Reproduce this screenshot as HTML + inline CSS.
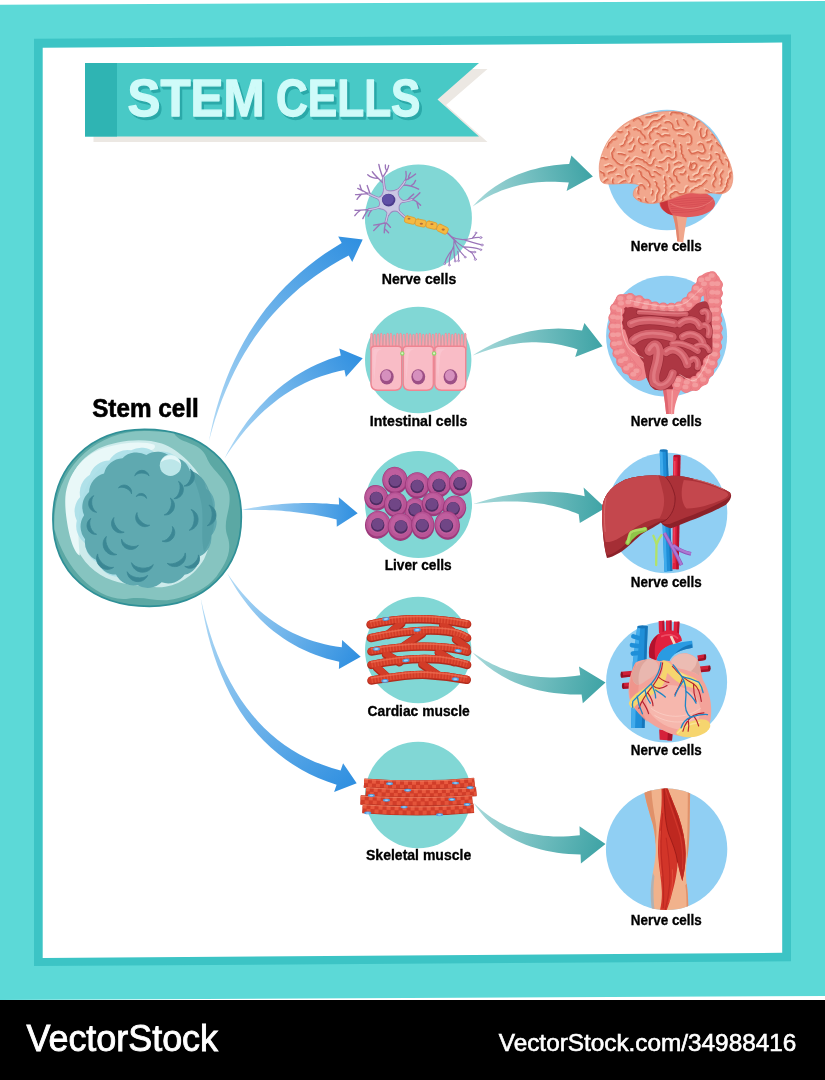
<!DOCTYPE html>
<html><head><meta charset="utf-8"><title>Stem Cells</title>
<style>
html,body{margin:0;padding:0;background:#fff;}
body{width:825px;height:1080px;overflow:hidden;}
svg{display:block;}
text{font-family:"Liberation Sans",sans-serif;}
.lb{font-weight:bold;font-size:15.2px;fill:#000;}
</style></head><body>
<svg width="825" height="1080" viewBox="0 0 825 1080">
<!-- 00_frame.svg -->
<rect x="0" y="0" width="825" height="1080" fill="#ffffff"/>
<polygon points="0,4.8 825,0.9 825,996 0,999.9" fill="#5cd9d7"/>
<polygon points="34,38.8 791,34.5 791,961.3 34,966.1" fill="#3cc4c5"/>
<polygon points="42.7,47.7 782.2,42.6 782.2,952.8 42.7,957.9" fill="#ffffff"/>
<filter id="noop2" x="-0.05" y="-0.1" width="1.1" height="1.2"><feOffset dx="0" dy="0"/></filter>
<rect x="0" y="1000" width="825" height="80" fill="#000000"/>
<g filter="url(#noop2)"><text x="26.5" y="1051.3" font-size="36.8" fill="#ffffff" stroke="#ffffff" stroke-width="0.9" textLength="191.5" lengthAdjust="spacingAndGlyphs">VectorStock</text>
<text x="498.8" y="1051" font-size="23.2" fill="#ffffff" stroke="#ffffff" stroke-width="0.6" textLength="297.5" lengthAdjust="spacingAndGlyphs">VectorStock.com/34988416</text></g>
<!-- 10_banner.svg -->
<g id="banner">
<polygon points="93.5,69 487.5,69 446,105 487.5,142 93.5,142" fill="#ece8e3"/>
<polygon points="85,63 479,63 437.5,99.6 479,136.5 85,136.5" fill="#48c9c6"/>
<rect x="85" y="63" width="32" height="73.5" fill="#2fb4b3"/>
<g font-weight="bold" font-size="52.3" stroke-linejoin="round" filter="url(#noop2)">
<g fill="#2ba9a9" stroke="#2ba9a9" stroke-width="1.3">
<text x="127.5" y="116.3" transform="translate(2.6,2.6)" textLength="137" lengthAdjust="spacingAndGlyphs">STEM</text>
<text x="127.5" y="116.3" transform="translate(1.3,1.3)" textLength="137" lengthAdjust="spacingAndGlyphs">STEM</text>
<text x="276" y="116.3" transform="translate(2.6,2.6)" textLength="144.5" lengthAdjust="spacingAndGlyphs">CELLS</text>
<text x="276" y="116.3" transform="translate(1.3,1.3)" textLength="144.5" lengthAdjust="spacingAndGlyphs">CELLS</text>
</g>
<g fill="#cffbf9" stroke="#cffbf9" stroke-width="1.3">
<text x="127.5" y="116.3" textLength="137" lengthAdjust="spacingAndGlyphs">STEM</text>
<text x="276" y="116.3" textLength="144.5" lengthAdjust="spacingAndGlyphs">CELLS</text>
</g>
</g>
</g>
<!-- 15_circles.svg -->
<g id="circles">
<circle cx="418.4" cy="218" r="53.5" fill="#81d7d5"/>
<circle cx="418.2" cy="360" r="53.2" fill="#81d7d5"/>
<circle cx="418.5" cy="504.5" r="53.5" fill="#81d7d5"/>
<circle cx="418.2" cy="650" r="53.2" fill="#81d7d5"/>
<circle cx="418.2" cy="795" r="53.2" fill="#81d7d5"/>
<circle cx="667" cy="170" r="60.3" fill="#90cff3"/>
<circle cx="666.6" cy="336.2" r="60.5" fill="#90cff3"/>
<circle cx="667" cy="513" r="60.3" fill="#90cff3"/>
<circle cx="666.6" cy="682" r="60.5" fill="#90cff3"/>
<circle cx="666.6" cy="849.3" r="60.7" fill="#90cff3"/>
</g>
<!-- 20_arrows.svg -->
<defs><linearGradient id="gb0" gradientUnits="userSpaceOnUse" x1="208.8" y1="441.5" x2="362.7" y2="239.6"><stop offset="0" stop-color="#b5dcf6"/><stop offset="1" stop-color="#2f8fe0"/></linearGradient>
<linearGradient id="gb1" gradientUnits="userSpaceOnUse" x1="224.5" y1="458.4" x2="362.7" y2="358.2"><stop offset="0" stop-color="#b5dcf6"/><stop offset="1" stop-color="#2f8fe0"/></linearGradient>
<linearGradient id="gb2" gradientUnits="userSpaceOnUse" x1="241.7" y1="510.0" x2="357.7" y2="513.3"><stop offset="0" stop-color="#b5dcf6"/><stop offset="1" stop-color="#2f8fe0"/></linearGradient>
<linearGradient id="gb3" gradientUnits="userSpaceOnUse" x1="227.3" y1="573.3" x2="360.7" y2="656.7"><stop offset="0" stop-color="#b5dcf6"/><stop offset="1" stop-color="#2f8fe0"/></linearGradient>
<linearGradient id="gb4" gradientUnits="userSpaceOnUse" x1="200.7" y1="598.3" x2="356.7" y2="783.3"><stop offset="0" stop-color="#b5dcf6"/><stop offset="1" stop-color="#2f8fe0"/></linearGradient>
<linearGradient id="gt0" gradientUnits="userSpaceOnUse" x1="472.6" y1="206.6" x2="592.9" y2="176.5"><stop offset="0" stop-color="#a9dadb"/><stop offset="1" stop-color="#3ea3a5"/></linearGradient>
<linearGradient id="gt1" gradientUnits="userSpaceOnUse" x1="472.6" y1="355.6" x2="602.6" y2="346.2"><stop offset="0" stop-color="#a9dadb"/><stop offset="1" stop-color="#3ea3a5"/></linearGradient>
<linearGradient id="gt2" gradientUnits="userSpaceOnUse" x1="473.2" y1="504.0" x2="605.5" y2="507.9"><stop offset="0" stop-color="#a9dadb"/><stop offset="1" stop-color="#3ea3a5"/></linearGradient>
<linearGradient id="gt3" gradientUnits="userSpaceOnUse" x1="472.6" y1="652.4" x2="605.5" y2="682.4"><stop offset="0" stop-color="#a9dadb"/><stop offset="1" stop-color="#3ea3a5"/></linearGradient>
<linearGradient id="gt4" gradientUnits="userSpaceOnUse" x1="473.6" y1="802.7" x2="605.5" y2="844.0"><stop offset="0" stop-color="#a9dadb"/><stop offset="1" stop-color="#3ea3a5"/></linearGradient></defs>
<g id="arrows">
<path d="M208.8 441.5 L211.8 430.6 L214.9 420.1 L218.4 409.7 L222.0 399.7 L226.0 389.9 L230.2 380.4 L234.6 371.2 L239.3 362.2 L244.3 353.6 L249.5 345.2 L254.9 337.0 L260.6 329.2 L266.6 321.6 L272.8 314.3 L279.3 307.2 L286.0 300.4 L292.9 293.9 L300.1 287.6 L307.6 281.7 L315.3 275.9 L323.3 270.4 L331.5 265.2 L339.9 260.3 L348.7 255.6 L352.2 262.0 L362.7 239.6 L338.2 236.6 L341.7 243.0 L332.9 248.5 L324.3 254.1 L316.0 260.1 L308.0 266.2 L300.2 272.7 L292.8 279.4 L285.7 286.3 L278.8 293.5 L272.3 301.0 L266.0 308.6 L260.1 316.6 L254.4 324.7 L249.0 333.1 L243.9 341.8 L239.1 350.7 L234.6 359.8 L230.3 369.2 L226.4 378.8 L222.7 388.7 L219.4 398.7 L216.3 409.1 L213.5 419.6 L211.0 430.4 L208.8 441.5Z" fill="url(#gb0)"/>
<path d="M224.5 458.4 L228.6 452.2 L232.8 446.3 L237.1 440.5 L241.4 435.0 L245.8 429.6 L250.3 424.5 L254.9 419.7 L259.6 415.0 L264.3 410.6 L269.1 406.4 L274.0 402.4 L279.0 398.6 L284.0 395.1 L289.1 391.7 L294.3 388.6 L299.6 385.7 L304.9 383.0 L310.3 380.6 L315.8 378.3 L321.3 376.2 L327.0 374.4 L332.7 372.8 L338.5 371.3 L344.4 370.1 L345.9 377.1 L362.7 358.2 L339.3 348.5 L340.8 355.5 L334.6 357.4 L328.5 359.5 L322.5 361.9 L316.6 364.4 L310.8 367.2 L305.2 370.2 L299.6 373.4 L294.2 376.8 L289.0 380.4 L283.8 384.2 L278.8 388.2 L273.9 392.4 L269.1 396.8 L264.5 401.4 L259.9 406.2 L255.5 411.2 L251.2 416.4 L247.0 421.8 L243.0 427.4 L239.0 433.2 L235.2 439.2 L231.5 445.4 L227.9 451.8 L224.5 458.4Z" fill="url(#gb1)"/>
<path d="M241.7 510.0 L245.8 510.0 L249.8 509.9 L253.9 509.9 L257.9 509.9 L261.9 509.9 L265.9 510.0 L269.9 510.2 L273.9 510.3 L277.9 510.6 L281.9 510.8 L285.8 511.2 L289.8 511.5 L293.7 511.9 L297.7 512.4 L301.6 512.9 L305.5 513.4 L309.4 514.0 L313.3 514.6 L317.2 515.3 L321.1 516.0 L325.0 516.8 L328.8 517.6 L332.7 518.5 L336.6 519.4 L336.8 526.8 L357.7 513.3 L338.8 497.2 L339.0 504.6 L334.9 504.2 L330.8 503.9 L326.7 503.6 L322.6 503.4 L318.5 503.2 L314.4 503.1 L310.3 503.0 L306.2 503.0 L302.2 503.1 L298.1 503.2 L294.0 503.3 L290.0 503.5 L285.9 503.7 L281.9 504.0 L277.8 504.4 L273.8 504.8 L269.7 505.2 L265.7 505.7 L261.7 506.3 L257.7 506.9 L253.7 507.6 L249.7 508.3 L245.7 509.1 L241.7 510.0Z" fill="url(#gb2)"/>
<path d="M227.3 573.3 L230.4 579.2 L233.6 584.8 L237.0 590.3 L240.6 595.5 L244.3 600.6 L248.1 605.6 L252.0 610.3 L256.0 614.8 L260.2 619.2 L264.6 623.4 L269.0 627.4 L273.6 631.2 L278.4 634.8 L283.2 638.2 L288.2 641.5 L293.4 644.5 L298.7 647.4 L304.1 650.0 L309.6 652.5 L315.3 654.7 L321.1 656.8 L327.0 658.7 L333.1 660.3 L339.2 661.8 L338.9 669.1 L360.7 656.7 L342.1 639.9 L341.8 647.2 L336.0 646.4 L330.3 645.4 L324.7 644.2 L319.2 642.8 L313.7 641.2 L308.4 639.5 L303.2 637.5 L298.0 635.3 L292.9 633.0 L288.0 630.4 L283.1 627.7 L278.3 624.7 L273.5 621.6 L268.9 618.2 L264.4 614.7 L259.9 610.9 L255.5 606.9 L251.2 602.7 L247.0 598.3 L242.9 593.7 L238.9 588.9 L235.0 583.9 L231.1 578.7 L227.3 573.3Z" fill="url(#gb3)"/>
<path d="M200.7 598.3 L202.7 610.5 L205.1 622.3 L207.7 633.7 L210.7 644.8 L214.0 655.4 L217.6 665.7 L221.5 675.6 L225.7 685.1 L230.2 694.3 L235.0 703.0 L240.2 711.4 L245.7 719.4 L251.5 727.0 L257.6 734.3 L264.0 741.1 L270.8 747.6 L277.9 753.6 L285.3 759.3 L293.0 764.6 L301.1 769.4 L309.5 773.9 L318.2 777.9 L327.2 781.6 L336.6 784.8 L334.1 792.0 L356.7 783.3 L343.1 763.2 L340.6 770.4 L331.8 768.0 L323.3 765.1 L315.0 761.9 L307.0 758.2 L299.2 754.2 L291.7 749.8 L284.5 744.9 L277.5 739.7 L270.7 734.0 L264.2 728.0 L258.0 721.5 L252.0 714.5 L246.3 707.2 L240.8 699.4 L235.6 691.2 L230.6 682.6 L225.9 673.6 L221.5 664.1 L217.4 654.2 L213.5 643.9 L209.9 633.1 L206.6 621.9 L203.5 610.3 L200.7 598.3Z" fill="url(#gb4)"/>
<path d="M472.6 206.6 L476.1 204.2 L479.6 201.9 L483.1 199.7 L486.7 197.6 L490.4 195.6 L494.0 193.8 L497.7 192.2 L501.5 190.6 L505.3 189.2 L509.2 187.9 L513.1 186.7 L517.0 185.7 L521.0 184.8 L525.1 184.0 L529.2 183.3 L533.4 182.7 L537.6 182.3 L541.9 182.0 L546.2 181.8 L550.6 181.7 L555.1 181.8 L559.6 181.9 L564.2 182.2 L568.8 182.6 L566.6 191.1 L592.9 176.5 L571.4 155.5 L569.2 164.0 L564.1 164.3 L559.1 164.7 L554.1 165.3 L549.3 166.0 L544.5 166.8 L539.8 167.8 L535.3 168.9 L530.8 170.1 L526.4 171.4 L522.1 172.9 L517.9 174.5 L513.8 176.3 L509.8 178.1 L505.9 180.1 L502.1 182.2 L498.4 184.4 L494.8 186.8 L491.3 189.3 L487.9 191.8 L484.6 194.5 L481.4 197.4 L478.4 200.3 L475.4 203.4 L472.6 206.6Z" fill="url(#gt0)"/>
<path d="M472.6 355.6 L477.4 353.8 L482.1 352.1 L486.8 350.5 L491.4 349.0 L496.0 347.7 L500.6 346.5 L505.1 345.5 L509.6 344.6 L514.1 343.9 L518.6 343.3 L523.0 342.8 L527.3 342.5 L531.7 342.3 L536.0 342.3 L540.3 342.4 L544.5 342.7 L548.7 343.0 L552.9 343.5 L557.1 344.2 L561.2 345.0 L565.3 345.9 L569.4 346.9 L573.5 348.1 L577.5 349.4 L575.2 356.9 L602.6 346.2 L584.4 323.1 L582.1 330.6 L577.3 329.9 L572.6 329.3 L567.8 328.9 L563.1 328.7 L558.4 328.6 L553.7 328.7 L549.0 328.9 L544.3 329.3 L539.7 329.8 L535.0 330.5 L530.4 331.3 L525.9 332.3 L521.3 333.4 L516.8 334.7 L512.2 336.1 L507.7 337.7 L503.3 339.4 L498.8 341.3 L494.4 343.3 L490.0 345.4 L485.6 347.7 L481.2 350.2 L476.9 352.8 L472.6 355.6Z" fill="url(#gt1)"/>
<path d="M473.2 504.0 L478.4 503.4 L483.6 502.9 L488.7 502.4 L493.7 502.0 L498.6 501.7 L503.5 501.5 L508.3 501.4 L513.0 501.4 L517.6 501.5 L522.2 501.7 L526.7 502.0 L531.2 502.4 L535.5 502.9 L539.8 503.5 L544.0 504.1 L548.2 504.9 L552.3 505.8 L556.3 506.7 L560.2 507.8 L564.0 508.9 L567.8 510.1 L571.5 511.4 L575.2 512.8 L578.7 514.3 L579.8 523.1 L605.5 507.9 L583.6 487.5 L584.7 496.3 L580.4 495.3 L576.1 494.5 L571.8 493.7 L567.4 493.1 L563.0 492.6 L558.6 492.2 L554.1 492.0 L549.6 491.8 L545.1 491.7 L540.5 491.8 L535.9 492.0 L531.3 492.2 L526.6 492.6 L521.9 493.1 L517.2 493.7 L512.5 494.4 L507.7 495.2 L502.8 496.1 L498.0 497.1 L493.1 498.3 L488.2 499.5 L483.2 500.9 L478.2 502.4 L473.2 504.0Z" fill="url(#gt2)"/>
<path d="M472.6 652.4 L475.8 655.9 L479.2 659.2 L482.7 662.3 L486.3 665.4 L490.1 668.2 L493.9 671.0 L497.9 673.5 L502.0 676.0 L506.2 678.3 L510.5 680.4 L514.9 682.4 L519.4 684.3 L524.0 686.0 L528.8 687.5 L533.6 688.9 L538.5 690.2 L543.6 691.3 L548.7 692.2 L554.0 693.0 L559.3 693.6 L564.8 694.1 L570.3 694.4 L575.9 694.5 L581.6 694.5 L582.8 703.2 L605.5 682.4 L579.0 666.6 L580.2 675.3 L575.0 676.0 L569.9 676.5 L564.8 677.0 L559.9 677.2 L554.9 677.4 L550.1 677.4 L545.3 677.2 L540.6 676.9 L536.0 676.5 L531.4 675.9 L526.8 675.2 L522.4 674.4 L517.9 673.4 L513.6 672.2 L509.3 670.9 L505.0 669.5 L500.8 667.9 L496.6 666.1 L492.5 664.2 L488.4 662.1 L484.4 659.9 L480.5 657.6 L476.5 655.0 L472.6 652.4Z" fill="url(#gt3)"/>
<path d="M473.6 802.7 L476.3 806.8 L479.2 810.6 L482.2 814.3 L485.4 817.9 L488.8 821.3 L492.3 824.5 L495.9 827.6 L499.8 830.6 L503.7 833.3 L507.9 836.0 L512.1 838.4 L516.6 840.7 L521.1 842.8 L525.8 844.7 L530.7 846.5 L535.7 848.1 L540.9 849.5 L546.1 850.8 L551.6 851.8 L557.1 852.7 L562.8 853.4 L568.6 854.0 L574.6 854.3 L580.6 854.5 L580.9 863.6 L605.5 844.0 L579.5 826.2 L579.8 835.3 L574.3 835.8 L568.9 836.2 L563.6 836.4 L558.4 836.5 L553.3 836.4 L548.3 836.1 L543.4 835.7 L538.6 835.1 L533.9 834.3 L529.3 833.4 L524.8 832.4 L520.3 831.1 L516.0 829.7 L511.7 828.1 L507.6 826.4 L503.5 824.5 L499.5 822.4 L495.6 820.1 L491.7 817.7 L487.9 815.0 L484.3 812.2 L480.6 809.2 L477.1 806.0 L473.6 802.7Z" fill="url(#gt4)"/>
</g>
<!-- 30_stemcell.svg -->
<g id="stemcell" transform="translate(45 420) scale(0.24848)">
<path d="M32 400 C32 185 185 38 400 38 C625 38 790 170 790 390 C790 600 645 750 420 750 C190 750 32 615 32 400Z" fill="#5ba8a4" stroke="#2f9097" stroke-width="7"/>
<path d="M38 440 C25 210 190 44 400 44 C450 44 490 48 520 55 C550 100 625 85 650 150 C670 205 735 235 742 300 C750 365 712 405 735 470 C758 540 715 590 690 630 C650 680 590 705 530 718 C460 738 410 708 340 718 C270 730 200 690 150 640 C100 590 60 520 38 440Z" fill="#86c4c0"/>
<path d="M88 330 C85 240 130 160 215 115 C290 80 400 70 470 95 C540 120 610 190 650 270 C690 360 680 480 640 560 C600 630 520 680 440 672 C380 668 330 665 270 645 C200 620 150 570 120 500 C100 450 90 390 88 330Z" fill="#cdebeb"/>
<path d="M82 310 C90 220 150 140 240 112 C320 88 400 85 440 100 C450 115 430 125 390 128 C310 135 230 170 185 235 C140 300 125 400 140 545 C120 540 100 480 90 420 C84 380 80 350 82 310Z" fill="#e9f8f8"/>
<path d="M653.7 409.2 A85.0 85.0 0 0 1 632.0 504.3 A85.0 85.0 0 0 1 565.4 575.0 A85.0 85.0 0 0 1 486.8 630.8 A85.0 85.0 0 0 1 391.1 639.0 A85.0 85.0 0 0 1 294.7 631.2 A85.0 85.0 0 0 1 215.0 575.3 A85.0 85.0 0 0 1 162.1 495.8 A85.0 85.0 0 0 1 128.0 405.5 A85.0 85.0 0 0 1 141.6 309.4 A85.0 85.0 0 0 1 180.4 219.9 A85.0 85.0 0 0 1 258.9 162.6 A85.0 85.0 0 0 1 346.3 122.1 A85.0 85.0 0 0 1 442.0 131.7 A85.0 85.0 0 0 1 535.3 157.1 A85.0 85.0 0 0 1 603.3 226.7 A85.0 85.0 0 0 1 640.7 314.5 A85.0 85.0 0 0 1 653.7 409.2Z" fill="#a6dde6" opacity="0.85"/>
<path d="M668.9 464.8 A80.0 80.0 0 0 1 623.4 548.7 A80.0 80.0 0 0 1 561.7 623.1 A80.0 80.0 0 0 1 469.5 653.2 A80.0 80.0 0 0 1 372.9 664.7 A80.0 80.0 0 0 1 285.7 622.1 A80.0 80.0 0 0 1 208.7 564.8 A80.0 80.0 0 0 1 161.2 479.7 A80.0 80.0 0 0 1 157.5 383.2 A80.0 80.0 0 0 1 177.4 289.6 A80.0 80.0 0 0 1 237.5 215.6 A80.0 80.0 0 0 1 311.8 153.7 A80.0 80.0 0 0 1 408.0 141.1 A80.0 80.0 0 0 1 505.0 147.6 A80.0 80.0 0 0 1 582.9 205.4 A80.0 80.0 0 0 1 648.0 275.9 A80.0 80.0 0 0 1 679.1 368.3 A80.0 80.0 0 0 1 668.9 464.8Z" fill="#5fa9b0"/>
<path d="M585 205 C640 215 670 290 678 350 C690 420 670 490 640 530 C625 470 640 400 630 340 C620 280 600 240 585 205Z" fill="#529ea5" opacity="0.8"/>
<g fill="#3b8794" stroke="#3b8794" stroke-width="3" stroke-linejoin="round">
<path transform="translate(390 225) rotate(180)" d="M-29 0 C-21 30 21 30 29 0 C17 15 -17 15 -29 0Z"/>
<path transform="translate(322 285) rotate(205)" d="M-29 0 C-21 30 21 30 29 0 C17 15 -17 15 -29 0Z"/>
<path transform="translate(388 312) rotate(190)" d="M-21 0 C-16 22 16 22 21 0 C12 11 -12 11 -21 0Z"/>
<path transform="translate(528 282) rotate(-75)" d="M-36 0 C-27 38 27 38 36 0 C22 19 -22 19 -36 0Z"/>
<path transform="translate(572 232) rotate(-70)" d="M-36 0 C-27 38 27 38 36 0 C22 19 -22 19 -36 0Z"/>
<path transform="translate(492 348) rotate(-70)" d="M-36 0 C-27 38 27 38 36 0 C22 19 -22 19 -36 0Z"/>
<path transform="translate(202 338) rotate(80)" d="M-34 0 C-25 35 25 35 34 0 C20 18 -20 18 -34 0Z"/>
<path transform="translate(196 428) rotate(70)" d="M-34 0 C-25 35 25 35 34 0 C20 18 -20 18 -34 0Z"/>
<path transform="translate(298 422) rotate(55)" d="M-36 0 C-27 38 27 38 36 0 C22 19 -22 19 -36 0Z"/>
<path transform="translate(396 398) rotate(45)" d="M-36 0 C-27 38 27 38 36 0 C22 19 -22 19 -36 0Z"/>
<path transform="translate(584 402) rotate(-85)" d="M-42 0 C-31 43 31 43 42 0 C25 22 -25 22 -42 0Z"/>
<path transform="translate(656 384) rotate(-85)" d="M-42 0 C-31 43 31 43 42 0 C25 22 -25 22 -42 0Z"/>
<path transform="translate(492 458) rotate(-55)" d="M-36 0 C-27 38 27 38 36 0 C22 19 -22 19 -36 0Z"/>
<path transform="translate(268 505) rotate(60)" d="M-42 0 C-31 43 31 43 42 0 C25 22 -25 22 -42 0Z"/>
<path transform="translate(342 492) rotate(20)" d="M-36 0 C-27 38 27 38 36 0 C22 19 -22 19 -36 0Z"/>
<path transform="translate(244 566) rotate(40)" d="M-42 0 C-31 43 31 43 42 0 C25 22 -25 22 -42 0Z"/>
<path transform="translate(392 578) rotate(5)" d="M-44 0 C-33 46 33 46 44 0 C27 24 -27 24 -44 0Z"/>
<path transform="translate(372 618) rotate(10)" d="M-42 0 C-31 43 31 43 42 0 C25 22 -25 22 -42 0Z"/>
<path transform="translate(528 556) rotate(-30)" d="M-42 0 C-31 43 31 43 42 0 C25 22 -25 22 -42 0Z"/>
<path transform="translate(590 566) rotate(-40)" d="M-36 0 C-27 38 27 38 36 0 C22 19 -22 19 -36 0Z"/>
</g>
<circle cx="505" cy="182" r="43" fill="#c4ebee" opacity="0.92"/>
<path d="M465 170 A43 43 0 0 1 548 180 A60 60 0 0 0 465 170Z" fill="#e4f7f8"/>
</g>
<!-- 41_neuron.svg -->
<g id="neuron" transform="translate(345 155) scale(0.18182)" fill="none" stroke-linecap="round" stroke-linejoin="round">
<!-- dendrites -->
<g stroke="#9a74b8" stroke-width="7.5">
<path d="M222 200 C212 170 212 140 210 118 M210 130 C200 100 190 80 186 52 M210 118 C225 95 238 80 240 58 M205 150 C185 130 165 115 150 92 M180 128 C160 128 140 122 125 108 M230 90 C222 78 220 66 222 55"/>
<path d="M285 200 C305 180 320 165 332 140 M332 140 C338 120 338 105 335 90 M332 140 C352 128 372 120 388 105 M318 165 C345 165 375 172 405 188 M350 132 C348 118 352 108 360 98 M365 168 C378 160 385 150 388 140"/>
<path d="M305 258 C330 255 350 250 372 244 M372 244 C388 232 400 222 412 208 M372 244 C390 252 404 262 416 276 M340 252 C350 238 365 225 378 215 M395 258 C398 270 402 282 404 292"/>
<path d="M190 240 C165 232 145 222 125 212 M125 212 C105 200 88 192 70 184 M125 212 C100 215 80 218 58 218 M140 218 C132 200 128 185 122 168 M95 198 C88 186 84 176 82 164 M90 216 C80 226 72 234 66 244"/>
<path d="M195 285 C170 295 150 298 128 300 M128 300 C102 302 80 306 55 304 M128 300 C115 318 105 332 98 350 M150 298 C140 310 132 322 128 336 M85 304 C72 312 62 322 54 334"/>
<path d="M238 315 C232 340 228 355 224 372 M224 372 C200 380 180 384 158 386 M224 372 C218 392 215 408 216 428 M224 372 C236 380 244 388 250 398 M190 383 C178 394 168 404 158 416 M218 405 C228 414 234 420 240 428"/>
</g>
<!-- axon -->
<path d="M285 300 C305 320 320 335 340 350 L560 425 C580 445 595 460 610 475" stroke="#9a74b8" stroke-width="9"/>
<!-- terminals -->
<g stroke="#9a74b8" stroke-width="6.5">
<path d="M585 450 C620 470 660 468 700 458 C715 454 730 452 745 454 M660 468 C690 478 720 486 752 494 M700 458 C710 448 716 440 720 430 M610 475 C640 500 670 520 700 540 C706 550 712 560 716 572 M650 505 C690 505 720 510 745 520 M600 465 C610 500 630 530 660 560 M600 470 C596 510 600 550 606 582 M598 500 C580 540 570 570 574 604 M590 520 C570 545 555 570 548 596 M620 530 C625 550 626 566 624 580 M680 528 C690 532 700 534 712 534"/>
</g>
<g fill="#d9d2ee" stroke="#9a74b8" stroke-width="3.5">
<circle cx="747" cy="454" r="6"/><circle cx="754" cy="495" r="6"/><circle cx="720" cy="428" r="5"/><circle cx="717" cy="574" r="6"/><circle cx="747" cy="521" r="5"/><circle cx="661" cy="562" r="5"/><circle cx="606" cy="584" r="5"/><circle cx="574" cy="606" r="5"/><circle cx="548" cy="598" r="5"/><circle cx="624" cy="582" r="5"/><circle cx="714" cy="534" r="5"/>
</g>
<!-- soma -->
<path d="M222 200 C212 170 212 140 210 122 M285 200 C305 180 320 165 330 144 M305 258 C330 255 350 250 368 245 M190 240 C165 232 145 222 129 214 M195 285 C170 295 150 298 132 300 M238 315 C232 340 228 355 225 368 M285 300 C305 320 320 335 338 348" stroke="#9a74b8" stroke-width="14"/>
<path d="M214 180 C225 205 262 205 292 190 C285 215 295 240 320 254 C295 265 290 285 298 312 C275 300 250 305 240 330 C232 305 210 292 184 292 C196 275 196 255 180 238 C205 232 216 210 214 180Z" fill="#9a74b8" stroke="#9a74b8" stroke-width="9"/>
<path d="M222 200 C212 170 212 140 210 122 M285 200 C305 180 320 165 330 144 M305 258 C330 255 350 250 368 245 M190 240 C165 232 145 222 129 214 M195 285 C170 295 150 298 132 300 M238 315 C232 340 228 355 225 368 M285 300 C305 320 320 335 338 348" stroke="#cac7e3" stroke-width="7"/>
<path d="M214 180 C225 205 262 205 292 190 C285 215 295 240 320 254 C295 265 290 285 298 312 C275 300 250 305 240 330 C232 305 210 292 184 292 C196 275 196 255 180 238 C205 232 216 210 214 180Z" fill="#cac7e3" stroke="#cac7e3" stroke-width="2"/>
<ellipse cx="240" cy="248" rx="37" ry="35" fill="#4b3c8c"/>
<ellipse cx="236" cy="243" rx="32" ry="29" fill="#5f4fa6"/>
<!-- myelin -->
<g fill="#f5b941" stroke="#dd9a2c" stroke-width="4">
<rect x="-30" y="-19" width="60" height="38" rx="12" transform="translate(358 358) rotate(14)"/>
<rect x="-30" y="-19" width="60" height="38" rx="12" transform="translate(416 374) rotate(12)"/>
<rect x="-30" y="-19" width="60" height="38" rx="12" transform="translate(476 386) rotate(14)"/>
<rect x="-31" y="-20" width="62" height="40" rx="12" transform="translate(536 408) rotate(26)"/>
</g>
<g fill="#b26d3c" stroke="none">
<ellipse cx="352" cy="350" rx="8" ry="5"/><ellipse cx="420" cy="378" rx="9" ry="5"/><ellipse cx="478" cy="380" rx="9" ry="5"/><ellipse cx="540" cy="410" rx="9" ry="6"/>
</g>
</g>
<!-- 42_intestcells.svg -->
<g id="intestcells" transform="translate(345 295) scale(0.18182)">
<g fill="#f7a7b0" stroke="#ee7f8c" stroke-width="3"><path d="M138.0 300 L141.5 216 Q146.0 201 150.5 216 L154.0 300Z"/><path d="M155.8 300 L159.3 222 Q163.8 207 168.3 222 L171.8 300Z"/><path d="M173.5 300 L177.0 220 Q181.5 205 186.0 220 L189.5 300Z"/><path d="M191.3 300 L194.8 216 Q199.3 201 203.8 216 L207.3 300Z"/><path d="M209.0 300 L212.5 222 Q217.0 207 221.5 222 L225.0 300Z"/><path d="M226.8 300 L230.3 216 Q234.8 201 239.3 216 L242.8 300Z"/><path d="M244.6 300 L248.1 216 Q252.6 201 257.1 216 L260.6 300Z"/><path d="M262.3 300 L265.8 226 Q270.3 211 274.8 226 L278.3 300Z"/><path d="M280.1 300 L283.6 216 Q288.1 201 292.6 216 L296.1 300Z"/><path d="M297.8 300 L301.3 216 Q305.8 201 310.3 216 L313.8 300Z"/><path d="M315.6 300 L319.1 222 Q323.6 207 328.1 222 L331.6 300Z"/><path d="M333.3 300 L336.8 216 Q341.3 201 345.8 216 L349.3 300Z"/><path d="M351.1 300 L354.6 220 Q359.1 205 363.6 220 L367.1 300Z"/><path d="M368.9 300 L372.4 222 Q376.9 207 381.4 222 L384.9 300Z"/><path d="M386.6 300 L390.1 216 Q394.6 201 399.1 216 L402.6 300Z"/><path d="M404.4 300 L407.9 216 Q412.4 201 416.9 216 L420.4 300Z"/><path d="M422.1 300 L425.6 222 Q430.1 207 434.6 222 L438.1 300Z"/><path d="M439.9 300 L443.4 220 Q447.9 205 452.4 220 L455.9 300Z"/><path d="M457.7 300 L461.2 216 Q465.7 201 470.2 216 L473.7 300Z"/><path d="M475.4 300 L478.9 222 Q483.4 207 487.9 222 L491.4 300Z"/><path d="M493.2 300 L496.7 216 Q501.2 201 505.7 216 L509.2 300Z"/><path d="M510.9 300 L514.4 216 Q518.9 201 523.4 216 L526.9 300Z"/><path d="M528.7 300 L532.2 226 Q536.7 211 541.2 226 L544.7 300Z"/><path d="M546.4 300 L549.9 216 Q554.4 201 558.9 216 L562.4 300Z"/><path d="M564.2 300 L567.7 216 Q572.2 201 576.7 216 L580.2 300Z"/><path d="M582.0 300 L585.5 222 Q590.0 207 594.5 222 L598.0 300Z"/><path d="M599.7 300 L603.2 216 Q607.7 201 612.2 216 L615.7 300Z"/><path d="M617.5 300 L621.0 220 Q625.5 205 630.0 220 L633.5 300Z"/><path d="M635.2 300 L638.7 222 Q643.2 207 647.7 222 L651.2 300Z"/><path d="M653.0 300 L656.5 216 Q661.0 201 665.5 216 L669.0 300Z"/></g>
<path d="M143 300 Q143 282 163 282 L292 282 Q312 282 312 300 L312 490 Q310 522 276 524 L179 524 Q145 522 143 490Z" fill="#f9bcc6" stroke="#ee8592" stroke-width="8" stroke-linejoin="round"/>
<path d="M155 310 Q155 296 173 296 L209 296 Q179 300 173 330 L161 470 Q153 400 155 310Z" fill="#fcd5dc" opacity="0.35"/>
<path d="M320 300 Q320 282 340 282 L466 282 Q486 282 486 300 L486 490 Q484 522 450 524 L356 524 Q322 522 320 490Z" fill="#f9bcc6" stroke="#ee8592" stroke-width="8" stroke-linejoin="round"/>
<path d="M332 310 Q332 296 350 296 L386 296 Q356 300 350 330 L338 470 Q330 400 332 310Z" fill="#fcd5dc" opacity="0.35"/>
<path d="M494 300 Q494 282 514 282 L644 282 Q664 282 664 300 L664 490 Q662 522 628 524 L530 524 Q496 522 494 490Z" fill="#f9bcc6" stroke="#ee8592" stroke-width="8" stroke-linejoin="round"/>
<path d="M506 310 Q506 296 524 296 L560 296 Q530 300 524 330 L512 470 Q504 400 506 310Z" fill="#fcd5dc" opacity="0.35"/>
<ellipse cx="230" cy="450" rx="38" ry="42" fill="#9c4f85"/>
<ellipse cx="227" cy="443" rx="27" ry="30" fill="#d690be"/>
<ellipse cx="403" cy="450" rx="38" ry="42" fill="#9c4f85"/>
<ellipse cx="400" cy="443" rx="27" ry="30" fill="#d690be"/>
<ellipse cx="580" cy="450" rx="38" ry="42" fill="#9c4f85"/>
<ellipse cx="577" cy="443" rx="27" ry="30" fill="#d690be"/>
<circle cx="315" cy="322" r="12" fill="#8fd66a"/><circle cx="315" cy="321" r="6" fill="#dcf7c6"/>
<circle cx="490" cy="322" r="12" fill="#8fd66a"/><circle cx="490" cy="321" r="6" fill="#dcf7c6"/>
</g>
<!-- 43_livercells.svg -->
<g id="livercells" transform="translate(345 440) scale(0.18182)">
<g transform="translate(385 388) rotate(0)"><ellipse rx="60" ry="71" fill="#9c3a7c"/><ellipse cy="-5" rx="55" ry="63" fill="#b85496"/><ellipse cx="-3" cy="-10" rx="42" ry="50" fill="#bf5e9e"/></g>
<circle cx="385" cy="385" r="37" fill="#4d2c62"/><circle cx="385" cy="380" r="32" fill="#704686"/>
<g transform="translate(275 222) rotate(-10)"><ellipse rx="70" ry="75" fill="#9c3a7c"/><ellipse cy="-5" rx="65" ry="67" fill="#b85496"/><ellipse cx="-3" cy="-10" rx="52" ry="54" fill="#bf5e9e"/></g>
<circle cx="276" cy="228" r="37" fill="#4d2c62"/><circle cx="276" cy="223" r="32" fill="#704686"/>
<g transform="translate(397 250) rotate(0)"><ellipse rx="68" ry="73" fill="#9c3a7c"/><ellipse cy="-5" rx="63" ry="65" fill="#b85496"/><ellipse cx="-3" cy="-10" rx="50" ry="52" fill="#bf5e9e"/></g>
<circle cx="397" cy="256" r="37" fill="#4d2c62"/><circle cx="397" cy="251" r="32" fill="#704686"/>
<g transform="translate(517 243) rotate(5)"><ellipse rx="66" ry="73" fill="#9c3a7c"/><ellipse cy="-5" rx="61" ry="65" fill="#b85496"/><ellipse cx="-3" cy="-10" rx="48" ry="52" fill="#bf5e9e"/></g>
<circle cx="517" cy="250" r="37" fill="#4d2c62"/><circle cx="517" cy="245" r="32" fill="#704686"/>
<g transform="translate(636 235) rotate(10)"><ellipse rx="64" ry="73" fill="#9c3a7c"/><ellipse cy="-5" rx="59" ry="65" fill="#b85496"/><ellipse cx="-3" cy="-10" rx="46" ry="52" fill="#bf5e9e"/></g>
<circle cx="632" cy="240" r="37" fill="#4d2c62"/><circle cx="632" cy="235" r="32" fill="#704686"/>
<g transform="translate(172 318) rotate(-15)"><ellipse rx="66" ry="71" fill="#9c3a7c"/><ellipse cy="-5" rx="61" ry="63" fill="#b85496"/><ellipse cx="-3" cy="-10" rx="48" ry="50" fill="#bf5e9e"/></g>
<circle cx="172" cy="322" r="37" fill="#4d2c62"/><circle cx="172" cy="317" r="32" fill="#704686"/>
<g transform="translate(278 356) rotate(0)"><ellipse rx="64" ry="71" fill="#9c3a7c"/><ellipse cy="-5" rx="59" ry="63" fill="#b85496"/><ellipse cx="-3" cy="-10" rx="46" ry="50" fill="#bf5e9e"/></g>
<circle cx="275" cy="358" r="37" fill="#4d2c62"/><circle cx="275" cy="353" r="32" fill="#704686"/>
<g transform="translate(486 352) rotate(10)"><ellipse rx="64" ry="67" fill="#9c3a7c"/><ellipse cy="-5" rx="59" ry="59" fill="#b85496"/><ellipse cx="-3" cy="-10" rx="46" ry="46" fill="#bf5e9e"/></g>
<circle cx="478" cy="358" r="37" fill="#4d2c62"/><circle cx="478" cy="353" r="32" fill="#704686"/>
<g transform="translate(602 374) rotate(15)"><ellipse rx="64" ry="69" fill="#9c3a7c"/><ellipse cy="-5" rx="59" ry="61" fill="#b85496"/><ellipse cx="-3" cy="-10" rx="46" ry="48" fill="#bf5e9e"/></g>
<circle cx="595" cy="378" r="37" fill="#4d2c62"/><circle cx="595" cy="373" r="32" fill="#704686"/>
<g transform="translate(180 466) rotate(10)"><ellipse rx="70" ry="77" fill="#9c3a7c"/><ellipse cy="-5" rx="65" ry="69" fill="#b85496"/><ellipse cx="-3" cy="-10" rx="52" ry="56" fill="#bf5e9e"/></g>
<circle cx="180" cy="468" r="37" fill="#4d2c62"/><circle cx="180" cy="463" r="32" fill="#704686"/>
<g transform="translate(305 478) rotate(0)"><ellipse rx="70" ry="77" fill="#9c3a7c"/><ellipse cy="-5" rx="65" ry="69" fill="#b85496"/><ellipse cx="-3" cy="-10" rx="52" ry="56" fill="#bf5e9e"/></g>
<circle cx="308" cy="478" r="37" fill="#4d2c62"/><circle cx="308" cy="473" r="32" fill="#704686"/>
<g transform="translate(428 470) rotate(0)"><ellipse rx="64" ry="77" fill="#9c3a7c"/><ellipse cy="-5" rx="59" ry="69" fill="#b85496"/><ellipse cx="-3" cy="-10" rx="46" ry="56" fill="#bf5e9e"/></g>
<circle cx="425" cy="472" r="37" fill="#4d2c62"/><circle cx="425" cy="467" r="32" fill="#704686"/>
<g transform="translate(562 470) rotate(-5)"><ellipse rx="70" ry="79" fill="#9c3a7c"/><ellipse cy="-5" rx="65" ry="71" fill="#b85496"/><ellipse cx="-3" cy="-10" rx="52" ry="58" fill="#bf5e9e"/></g>
<circle cx="558" cy="472" r="37" fill="#4d2c62"/><circle cx="558" cy="467" r="32" fill="#704686"/>
</g>
<!-- 44_cardiac.svg -->
<g id="cardiac" transform="translate(345 585) scale(0.18182)" fill="none" stroke-linecap="round">
<path d="M140 218 C260 190 450 172 672 216" stroke="#b12b1c" stroke-width="46"/>
<path d="M142 292 C260 266 420 240 560 256 C620 264 650 276 672 292" stroke="#b12b1c" stroke-width="46"/>
<path d="M145 366 C260 346 400 330 550 345 C620 352 650 360 672 368" stroke="#b12b1c" stroke-width="46"/>
<path d="M145 440 C260 416 400 400 520 410 C600 420 640 430 672 440" stroke="#b12b1c" stroke-width="46"/>
<path d="M145 526 C250 510 350 490 450 495 C550 500 610 510 670 522" stroke="#b12b1c" stroke-width="46"/>
<path d="M310 212 L235 275" stroke="#b12b1c" stroke-width="46"/>
<path d="M540 222 L610 270" stroke="#b12b1c" stroke-width="46"/>
<path d="M425 268 L320 340" stroke="#b12b1c" stroke-width="46"/>
<path d="M610 300 L668 345" stroke="#b12b1c" stroke-width="46"/>
<path d="M225 382 L300 425" stroke="#b12b1c" stroke-width="46"/>
<path d="M515 372 L600 425" stroke="#b12b1c" stroke-width="46"/>
<path d="M175 455 L230 505" stroke="#b12b1c" stroke-width="46"/>
<path d="M425 438 L505 492" stroke="#b12b1c" stroke-width="46"/>
<path d="M310 212 L235 275" stroke="#d23c28" stroke-width="36" transform="translate(0 -4)"/>
<path d="M540 222 L610 270" stroke="#d23c28" stroke-width="36" transform="translate(0 -4)"/>
<path d="M425 268 L320 340" stroke="#d23c28" stroke-width="36" transform="translate(0 -4)"/>
<path d="M610 300 L668 345" stroke="#d23c28" stroke-width="36" transform="translate(0 -4)"/>
<path d="M225 382 L300 425" stroke="#d23c28" stroke-width="36" transform="translate(0 -4)"/>
<path d="M515 372 L600 425" stroke="#d23c28" stroke-width="36" transform="translate(0 -4)"/>
<path d="M175 455 L230 505" stroke="#d23c28" stroke-width="36" transform="translate(0 -4)"/>
<path d="M425 438 L505 492" stroke="#d23c28" stroke-width="36" transform="translate(0 -4)"/>
<path d="M140 218 C260 190 450 172 672 216" stroke="#d23c28" stroke-width="38" transform="translate(0 -4)"/>
<path d="M142 292 C260 266 420 240 560 256 C620 264 650 276 672 292" stroke="#d23c28" stroke-width="38" transform="translate(0 -4)"/>
<path d="M145 366 C260 346 400 330 550 345 C620 352 650 360 672 368" stroke="#d23c28" stroke-width="38" transform="translate(0 -4)"/>
<path d="M145 440 C260 416 400 400 520 410 C600 420 640 430 672 440" stroke="#d23c28" stroke-width="38" transform="translate(0 -4)"/>
<path d="M145 526 C250 510 350 490 450 495 C550 500 610 510 670 522" stroke="#d23c28" stroke-width="38" transform="translate(0 -4)"/>
<path d="M140 218 C260 190 450 172 672 216" stroke="#e4563b" stroke-width="36" stroke-dasharray="8 9" stroke-linecap="butt" transform="translate(0 -4)" opacity="0.75"/>
<path d="M142 292 C260 266 420 240 560 256 C620 264 650 276 672 292" stroke="#e4563b" stroke-width="36" stroke-dasharray="8 9" stroke-linecap="butt" transform="translate(0 -4)" opacity="0.75"/>
<path d="M145 366 C260 346 400 330 550 345 C620 352 650 360 672 368" stroke="#e4563b" stroke-width="36" stroke-dasharray="8 9" stroke-linecap="butt" transform="translate(0 -4)" opacity="0.75"/>
<path d="M145 440 C260 416 400 400 520 410 C600 420 640 430 672 440" stroke="#e4563b" stroke-width="36" stroke-dasharray="8 9" stroke-linecap="butt" transform="translate(0 -4)" opacity="0.75"/>
<path d="M145 526 C250 510 350 490 450 495 C550 500 610 510 670 522" stroke="#e4563b" stroke-width="36" stroke-dasharray="8 9" stroke-linecap="butt" transform="translate(0 -4)" opacity="0.75"/>
<path d="M140 218 C260 190 450 172 672 216" stroke="#ee7358" stroke-width="8" transform="translate(0 -15)" opacity="0.7"/>
<path d="M142 292 C260 266 420 240 560 256 C620 264 650 276 672 292" stroke="#ee7358" stroke-width="8" transform="translate(0 -15)" opacity="0.7"/>
<path d="M145 366 C260 346 400 330 550 345 C620 352 650 360 672 368" stroke="#ee7358" stroke-width="8" transform="translate(0 -15)" opacity="0.7"/>
<path d="M145 440 C260 416 400 400 520 410 C600 420 640 430 672 440" stroke="#ee7358" stroke-width="8" transform="translate(0 -15)" opacity="0.7"/>
<path d="M145 526 C250 510 350 490 450 495 C550 500 610 510 670 522" stroke="#ee7358" stroke-width="8" transform="translate(0 -15)" opacity="0.7"/>
<g stroke="none">
<g transform="translate(225 187) rotate(-8)"><ellipse rx="20" ry="10" fill="#4e9be0"/><ellipse rx="12" ry="5" fill="#9fd2f6"/></g>
<g transform="translate(397 247) rotate(-5)"><ellipse rx="20" ry="10" fill="#4e9be0"/><ellipse rx="12" ry="5" fill="#9fd2f6"/></g>
<g transform="translate(173 352) rotate(-5)"><ellipse rx="20" ry="10" fill="#4e9be0"/><ellipse rx="12" ry="5" fill="#9fd2f6"/></g>
<g transform="translate(622 362) rotate(8)"><ellipse rx="20" ry="10" fill="#4e9be0"/><ellipse rx="12" ry="5" fill="#9fd2f6"/></g>
<g transform="translate(335 415) rotate(-8)"><ellipse rx="20" ry="10" fill="#4e9be0"/><ellipse rx="12" ry="5" fill="#9fd2f6"/></g>
<g transform="translate(220 527) rotate(-5)"><ellipse rx="20" ry="10" fill="#4e9be0"/><ellipse rx="12" ry="5" fill="#9fd2f6"/></g>
<g transform="translate(607 518) rotate(5)"><ellipse rx="20" ry="10" fill="#4e9be0"/><ellipse rx="12" ry="5" fill="#9fd2f6"/></g>
</g></g>
<!-- 45_skeletal.svg -->
<g id="skeletal" transform="translate(345 730) scale(0.18182)" fill="none" stroke-linecap="butt">
<path d="M105 292 C300 306 520 306 712 288" stroke="#b53020" stroke-width="52" stroke-linecap="butt"/>
<path d="M105 292 C300 306 520 306 712 288" stroke="#d13d29" stroke-width="46"/>
<path d="M105 292 C300 306 520 306 712 288" stroke="#e85a3f" stroke-width="22" stroke-dasharray="22 22" transform="translate(0 -12)"/>
<path d="M105 292 C300 306 520 306 712 288" stroke="#e85a3f" stroke-width="22" stroke-dasharray="22 22" stroke-dashoffset="22" transform="translate(0 11)" opacity="0.8"/>
<path d="M105 292 C300 306 520 306 712 288" stroke="#f08468" stroke-width="5" transform="translate(0 -21)" opacity="0.8"/>
<path d="M115 338 C300 353 520 353 722 338" stroke="#b53020" stroke-width="52" stroke-linecap="butt"/>
<path d="M115 338 C300 353 520 353 722 338" stroke="#d13d29" stroke-width="46"/>
<path d="M115 338 C300 353 520 353 722 338" stroke="#e85a3f" stroke-width="22" stroke-dasharray="22 22" transform="translate(0 -12)"/>
<path d="M115 338 C300 353 520 353 722 338" stroke="#e85a3f" stroke-width="22" stroke-dasharray="22 22" stroke-dashoffset="22" transform="translate(0 11)" opacity="0.8"/>
<path d="M115 338 C300 353 520 353 722 338" stroke="#f08468" stroke-width="5" transform="translate(0 -21)" opacity="0.8"/>
<path d="M86 385 C300 396 500 396 700 382" stroke="#b53020" stroke-width="52" stroke-linecap="butt"/>
<path d="M86 385 C300 396 500 396 700 382" stroke="#d13d29" stroke-width="46"/>
<path d="M86 385 C300 396 500 396 700 382" stroke="#e85a3f" stroke-width="22" stroke-dasharray="22 22" transform="translate(0 -12)"/>
<path d="M86 385 C300 396 500 396 700 382" stroke="#e85a3f" stroke-width="22" stroke-dasharray="22 22" stroke-dashoffset="22" transform="translate(0 11)" opacity="0.8"/>
<path d="M86 385 C300 396 500 396 700 382" stroke="#f08468" stroke-width="5" transform="translate(0 -21)" opacity="0.8"/>
<path d="M97 432 C300 448 520 448 708 430" stroke="#b53020" stroke-width="52" stroke-linecap="butt"/>
<path d="M97 432 C300 448 520 448 708 430" stroke="#d13d29" stroke-width="46"/>
<path d="M97 432 C300 448 520 448 708 430" stroke="#e85a3f" stroke-width="22" stroke-dasharray="22 22" transform="translate(0 -12)"/>
<path d="M97 432 C300 448 520 448 708 430" stroke="#e85a3f" stroke-width="22" stroke-dasharray="22 22" stroke-dashoffset="22" transform="translate(0 11)" opacity="0.8"/>
<path d="M97 432 C300 448 520 448 708 430" stroke="#f08468" stroke-width="5" transform="translate(0 -21)" opacity="0.8"/>
<g stroke="none">
<g transform="translate(245 296)"><ellipse rx="19" ry="8" fill="#4e9be0"/><ellipse rx="11" ry="4" fill="#9fd2f6"/></g>
<g transform="translate(608 292)"><ellipse rx="19" ry="8" fill="#4e9be0"/><ellipse rx="11" ry="4" fill="#9fd2f6"/></g>
<g transform="translate(688 318)"><ellipse rx="19" ry="8" fill="#4e9be0"/><ellipse rx="11" ry="4" fill="#9fd2f6"/></g>
<g transform="translate(345 331)"><ellipse rx="19" ry="8" fill="#4e9be0"/><ellipse rx="11" ry="4" fill="#9fd2f6"/></g>
<g transform="translate(145 360)"><ellipse rx="19" ry="8" fill="#4e9be0"/><ellipse rx="11" ry="4" fill="#9fd2f6"/></g>
<g transform="translate(228 386)"><ellipse rx="19" ry="8" fill="#4e9be0"/><ellipse rx="11" ry="4" fill="#9fd2f6"/></g>
<g transform="translate(588 382)"><ellipse rx="19" ry="8" fill="#4e9be0"/><ellipse rx="11" ry="4" fill="#9fd2f6"/></g>
<g transform="translate(672 410)"><ellipse rx="19" ry="8" fill="#4e9be0"/><ellipse rx="11" ry="4" fill="#9fd2f6"/></g>
<g transform="translate(325 424)"><ellipse rx="19" ry="8" fill="#4e9be0"/><ellipse rx="11" ry="4" fill="#9fd2f6"/></g>
<g transform="translate(125 456)"><ellipse rx="19" ry="8" fill="#4e9be0"/><ellipse rx="11" ry="4" fill="#9fd2f6"/></g>
<g transform="translate(520 466)"><ellipse rx="19" ry="8" fill="#4e9be0"/><ellipse rx="11" ry="4" fill="#9fd2f6"/></g>
</g></g>
<!-- 51_brain.svg -->
<g id="brain" transform="translate(595 105) scale(0.17576)">
<path d="M430 590 C450 640 462 700 468 775 L502 782 C508 730 515 690 525 630Z" fill="#f0a78c"/>
<path d="M430 590 C450 640 462 700 468 775 L480 778 C476 700 468 640 455 595Z" fill="#e3866d"/>
<ellipse cx="525" cy="560" rx="158" ry="78" fill="#e05a5c"/>
<path d="M368 540 C372 590 400 620 445 628 C420 600 410 570 415 530Z" fill="#c8333a"/>
<g fill="none" stroke="#c9404a" stroke-width="3" opacity="0.8">
<path d="M420 545 C480 535 580 520 672 530"/>
<path d="M423 556 C480 548 580 535 664 539"/>
<path d="M426 567 C480 561 580 550 656 548"/>
<path d="M429 578 C480 574 580 565 648 557"/>
<path d="M432 589 C480 587 580 580 640 566"/>
<path d="M435 600 C480 600 580 595 632 575"/>
<path d="M438 611 C480 613 580 610 624 584"/>
</g>
<path d="M430 560 C500 600 600 600 670 540" fill="none" stroke="#ef8a82" stroke-width="5" opacity="0.7"/>
<clipPath id="brclip"><path d="M40 440 C26 428 27 402 25 380 C23 358 24 335 30 310 C36 285 47 255 60 230 C73 205 90 182 110 160 C130 138 153 117 180 100 C207 83 238 70 270 60 C302 50 337 44 370 40 C403 36 439 34 470 38 C501 42 529 51 555 64 C581 77 606 95 628 116 C650 137 672 165 690 190 C708 215 724 242 738 268 C752 294 764 320 772 345 C780 370 785 398 784 420 C783 442 776 466 765 480 C754 494 738 502 720 505 C702 508 680 500 660 500 C640 500 620 505 600 505 C580 505 562 498 540 500 C518 502 493 512 470 520 C447 528 423 538 400 545 C377 552 353 559 330 560 C307 561 278 557 260 550 C242 543 226 532 220 520 C214 508 220 491 225 480 C230 469 258 461 250 455 C242 449 203 446 180 445 C157 444 133 451 110 450 C87 449 54 452 40 440Z"/></clipPath>
<path d="M40 440 C26 428 27 402 25 380 C23 358 24 335 30 310 C36 285 47 255 60 230 C73 205 90 182 110 160 C130 138 153 117 180 100 C207 83 238 70 270 60 C302 50 337 44 370 40 C403 36 439 34 470 38 C501 42 529 51 555 64 C581 77 606 95 628 116 C650 137 672 165 690 190 C708 215 724 242 738 268 C752 294 764 320 772 345 C780 370 785 398 784 420 C783 442 776 466 765 480 C754 494 738 502 720 505 C702 508 680 500 660 500 C640 500 620 505 600 505 C580 505 562 498 540 500 C518 502 493 512 470 520 C447 528 423 538 400 545 C377 552 353 559 330 560 C307 561 278 557 260 550 C242 543 226 532 220 520 C214 508 220 491 225 480 C230 469 258 461 250 455 C242 449 203 446 180 445 C157 444 133 451 110 450 C87 449 54 452 40 440Z" fill="#f2a78d"/>
<g clip-path="url(#brclip)" fill="none" stroke-linecap="round" stroke-linejoin="round">
<path d="M269 111 C269 109 271 101 270 98 C268 94 263 92 260 89 C258 85 256 81 253 78 C249 75 245 73 241 73 C237 73 233 77 229 79 C225 81 220 85 218 87 M205 325 C207 324 214 323 217 320 C221 317 222 313 225 310 C228 306 231 302 235 301 C239 300 244 303 248 304 C252 305 256 308 260 309 C264 310 270 309 273 311 C276 313 276 320 279 323 C282 325 288 323 291 325 C295 328 296 333 299 336 C302 338 306 341 310 342 C314 343 320 342 323 339 C327 337 329 333 331 329 C332 325 331 319 333 316 C335 312 341 309 343 307 M159 341 C157 341 150 341 146 340 C142 339 138 336 135 334 C131 332 127 329 124 327 C121 324 119 320 116 317 C113 313 110 310 107 307 C104 304 101 301 99 297 C98 293 98 288 98 284 C97 279 95 275 96 271 C97 267 102 264 104 261 C106 257 108 251 109 249 M342 435 C343 437 350 441 351 444 C352 448 348 453 349 457 C350 461 355 464 357 467 C360 471 363 474 364 478 C366 482 366 487 364 491 C363 495 359 498 357 502 C355 505 353 510 353 514 C352 518 352 523 352 527 C352 531 354 536 352 540 C351 544 348 548 345 551 C342 554 336 556 334 558 M287 533 C287 535 287 543 289 546 C291 550 298 552 299 553 M366 324 C368 324 375 325 379 324 C383 323 387 320 391 318 C394 316 398 314 401 311 C404 308 406 303 409 301 C413 299 418 298 422 299 C426 300 428 306 431 308 C435 310 440 310 444 309 C448 308 453 305 455 302 C458 299 460 295 461 291 C462 287 461 282 460 278 C460 273 459 267 459 265 M474 171 C476 171 482 171 487 172 C491 173 495 175 499 176 C503 176 508 177 512 175 C516 174 517 168 521 166 C525 164 530 163 534 165 C538 166 540 171 543 174 C545 178 548 182 548 186 C549 190 548 195 548 199 C548 203 550 208 548 212 C547 216 544 221 540 222 C537 224 529 222 527 222 M544 329 C544 331 543 338 542 342 C541 346 537 350 537 354 C537 358 540 363 543 366 C546 368 552 369 556 369 C560 368 565 367 568 364 C571 362 573 357 575 353 C576 349 578 344 578 340 C577 337 573 332 570 330 C566 329 560 330 557 332 C553 333 549 337 548 341 C546 344 548 352 548 354 M693 359 C693 361 691 367 690 371 C688 375 686 379 684 383 C682 386 679 390 678 394 C678 398 681 403 683 407 C684 411 688 415 687 419 C687 423 683 426 680 430 C678 433 675 437 673 441 C672 445 670 450 671 454 C672 457 677 463 678 465 M597 426 C595 426 588 426 584 427 C580 429 578 435 574 436 C571 437 566 433 562 433 C557 433 553 434 549 434 C544 433 539 432 536 430 C533 427 532 422 531 418 C530 414 532 407 532 405 M250 374 C251 375 258 378 260 381 C262 385 261 390 262 394 C263 398 265 403 268 406 C270 409 275 411 278 413 C282 416 285 419 289 421 C292 424 296 426 299 429 C302 432 304 436 306 440 C309 444 311 448 312 452 C312 456 310 462 309 465 M604 134 C603 136 599 142 599 146 C598 150 600 155 600 159 C601 163 601 168 602 172 C603 176 604 182 607 184 C610 187 615 188 619 187 C623 186 627 182 629 179 C632 176 634 171 635 167 C635 163 633 158 634 154 C634 150 637 144 638 142 M190 151 C191 153 195 160 194 163 C194 167 190 171 187 174 C184 177 179 179 178 183 C176 187 181 192 180 196 C179 200 174 202 172 206 C170 210 170 215 168 219 C166 222 164 227 160 229 C157 232 150 232 148 233 M568 137 C569 135 573 129 575 125 C576 122 578 117 579 113 C580 109 578 104 580 100 C583 97 590 95 592 94 M775 382 C773 383 767 388 766 391 C765 395 769 400 769 404 C769 408 767 413 764 416 C762 420 757 421 755 425 C753 429 756 434 755 438 C753 442 749 445 748 449 C747 453 752 458 751 462 C749 466 743 468 741 471 C740 475 741 481 739 484 C737 488 732 489 729 492 C726 495 723 498 719 500 C715 501 710 501 706 502 C701 502 695 502 693 502 M530 466 C528 467 522 470 520 474 C517 477 518 482 517 486 C515 491 516 496 513 499 C511 502 506 505 502 506 C498 507 493 506 489 506 C485 506 480 505 476 503 C473 501 471 496 467 494 C463 493 458 492 454 494 C450 495 447 499 444 502 C440 504 435 504 432 507 C429 510 427 515 427 519 C427 523 432 528 433 530 M76 388 C78 387 84 384 88 382 C92 381 97 381 101 380 C105 378 109 377 112 374 C115 371 119 365 120 363 M331 255 C329 256 322 258 319 261 C317 264 318 270 317 274 C316 278 316 283 314 287 C312 291 309 296 308 298 M728 335 C726 334 721 330 719 326 C717 322 719 317 717 313 C715 309 709 307 708 304 C706 300 709 295 708 291 C707 287 705 281 702 279 C699 277 691 278 689 277 M499 53 C497 52 492 47 489 45 C485 43 480 44 476 44 C471 44 467 45 463 44 C458 43 455 40 450 40 C446 39 441 39 437 42 C434 44 432 51 431 53 M34 301 C36 300 43 297 47 298 C51 299 53 305 57 306 C61 307 68 305 70 305 M284 475 C283 473 281 467 278 464 C276 460 273 456 269 454 C265 453 260 454 256 455 C252 457 249 461 247 465 C246 469 249 474 249 478 C248 482 245 486 244 490 C244 494 245 501 246 503 M374 114 C372 116 366 119 363 122 C360 125 359 131 356 132 C352 134 347 131 343 132 C338 133 333 134 330 136 C328 139 329 146 326 149 C324 152 318 152 315 155 C312 158 310 162 309 167 C308 171 309 175 311 179 C312 184 315 189 316 191 M479 439 C478 438 472 434 469 431 C467 427 465 423 464 419 C463 415 464 409 462 406 C460 403 453 403 450 400 C448 397 446 392 446 388 C446 384 448 379 450 376 C453 372 455 368 458 365 C462 363 466 360 470 360 C474 359 479 363 483 362 C487 361 490 357 494 355 C498 353 503 350 505 349 M634 430 C633 432 628 437 625 440 C622 443 619 445 616 448 C612 451 610 456 607 458 C603 460 597 458 594 460 C590 462 588 467 584 469 C580 470 575 469 571 471 C567 473 565 477 561 480 C558 482 552 482 550 485 C547 488 547 496 546 498 M397 409 C397 411 394 418 395 422 C396 426 402 429 402 433 C403 437 400 441 400 446 C401 450 406 454 405 457 C405 461 399 465 399 469 C399 472 404 476 404 480 C405 485 402 489 401 493 C401 497 402 503 400 506 C398 509 392 510 389 513 C386 516 384 521 384 525 C384 529 388 534 388 537 C387 541 381 546 380 548 M70 239 C71 237 74 231 76 227 C78 223 78 218 80 215 C83 212 88 211 91 208 C94 205 95 199 98 197 C102 195 107 197 111 195 C115 194 120 189 122 188 M645 368 C647 367 655 365 657 362 C659 359 658 353 660 349 C662 345 666 343 668 339 C671 336 672 331 675 328 C678 326 685 323 687 322 M285 189 C284 187 283 180 281 177 C279 173 275 171 272 167 C269 164 265 162 263 159 C260 155 260 150 257 147 C254 144 248 145 245 143 C241 141 238 136 234 135 C230 134 223 138 221 138 M448 201 C448 203 445 210 446 214 C447 217 454 219 456 223 C457 226 456 233 456 236 M629 484 C631 485 637 486 641 488 C645 491 647 494 651 496 C655 498 662 499 664 500 M380 270 C379 268 376 263 374 259 C373 255 370 251 369 247 C368 243 367 238 368 234 C369 230 374 227 377 225 C381 223 385 222 390 221 C394 220 399 220 403 221 C407 222 410 225 414 227 C418 229 424 231 426 232 M728 375 C727 377 724 383 721 386 C719 390 714 393 713 397 C712 400 714 405 715 409 C717 413 722 417 722 420 C723 424 718 429 718 433 C717 437 720 441 720 446 C719 450 715 455 714 457 M337 378 C339 378 346 380 349 382 C353 384 356 388 359 390 C363 393 369 396 371 397 M589 300 C590 302 594 308 597 310 C600 313 605 315 609 315 C613 316 618 312 622 313 C626 313 630 317 634 317 C638 318 643 318 647 316 C651 315 655 311 657 308 C660 304 661 300 661 295 C661 291 657 285 656 283 M323 511 C324 509 328 503 329 499 C330 495 328 488 327 486 M353 56 C351 57 344 57 340 57 C336 58 331 58 327 60 C323 61 320 65 316 67 C312 68 307 67 303 68 C299 68 292 69 290 69 M486 224 C487 226 491 232 491 236 C492 240 489 245 490 249 C490 253 493 257 493 262 C494 266 490 271 491 274 C493 278 498 280 500 284 C502 288 499 294 501 297 C503 301 508 302 511 306 C513 309 515 316 516 318 M501 141 C499 141 493 138 488 138 C484 138 480 140 476 141 C472 142 467 144 463 143 C459 143 454 141 451 138 C448 136 444 132 443 128 C441 124 443 119 441 115 C440 111 438 107 435 104 C432 101 428 98 424 96 C420 95 416 94 411 95 C407 95 401 98 399 99 M59 351 C61 351 67 350 71 348 C76 347 79 343 83 342 C87 342 94 345 96 346 M534 254 C535 255 538 261 540 265 C543 269 545 274 548 275 C552 277 557 275 561 275 C565 274 570 273 574 271 C578 270 581 266 585 266 C589 266 593 270 597 271 C601 273 606 275 610 275 C614 275 619 273 622 270 C624 267 627 262 627 258 C627 254 623 250 622 246 C620 242 620 238 618 234 C617 230 615 225 612 222 C609 220 603 218 599 218 C596 219 590 224 589 226 M171 283 C169 283 163 281 158 280 C154 279 150 278 146 277 C141 277 135 277 133 277 M408 382 C410 380 417 378 419 374 C421 371 420 366 421 361 C421 357 422 353 422 349 C422 344 420 338 420 336 M515 376 C514 378 513 386 510 389 C507 391 502 393 498 394 C494 394 487 392 485 392 M423 172 C421 172 414 171 410 171 C406 171 401 169 397 170 C393 171 390 177 386 177 C382 178 377 177 373 174 C370 172 369 166 365 164 C362 162 355 161 353 160 M52 401 C52 398 51 391 49 388 C46 385 41 385 37 382 C33 380 28 376 27 375 M266 257 C267 259 270 266 273 268 C276 270 284 269 286 269 M185 404 C184 403 179 398 177 394 C175 391 175 386 175 381 C174 377 171 372 172 369 C173 365 178 362 182 360 C185 357 188 353 192 352 C196 351 202 354 205 354 M253 189 C252 191 247 197 247 201 C247 205 249 210 252 213 C254 216 259 219 262 221 C266 223 271 226 274 226 C278 226 282 220 286 219 C290 218 296 220 299 220 M616 405 C618 403 623 398 626 397 C630 395 635 395 639 396 C644 396 650 399 652 400 M744 308 C746 309 753 311 755 315 C758 318 760 322 761 326 C762 330 760 335 760 339 C760 344 761 350 761 352 M467 88 C467 91 468 97 470 101 C471 105 474 111 475 113 M226 231 C225 233 223 239 221 243 C220 247 219 252 217 256 C214 259 210 262 206 263 C202 264 195 263 193 263 M667 231 C666 233 663 238 662 242 C661 247 660 253 660 255 M692 214 C693 216 697 222 700 225 C703 228 707 229 711 232 C714 235 718 238 720 241 C723 244 726 248 727 252 C728 256 725 261 727 265 C729 268 735 272 737 273 M219 192 C218 194 219 201 217 204 C215 208 210 210 207 212 C203 215 198 218 196 220 M528 113 C526 111 522 107 520 103 C517 99 517 94 515 91 C512 88 506 85 504 83 M394 62 C392 63 385 64 382 67 C379 69 379 75 376 78 C373 81 368 82 364 84 C360 85 357 89 353 90 C349 90 344 88 340 89 C335 89 331 91 328 94 C324 96 320 99 318 102 C315 106 315 110 313 114 C310 118 308 121 305 124 C302 127 298 130 294 132 C290 134 284 136 282 137 M662 202 C660 203 655 207 651 209 C647 210 640 211 638 211 M175 127 C177 126 183 124 187 122 C190 119 195 115 197 114 M173 430 C171 431 164 432 161 433 C157 435 153 438 150 440 C146 443 141 447 139 448 M130 149 C132 150 138 154 142 154 C146 155 152 152 154 151 M71 422 C69 423 63 426 59 429 C56 431 52 437 51 438 M103 421 C102 423 99 429 99 434 C99 438 102 444 103 446 M452 337 C454 336 460 333 464 331 C467 329 471 326 475 325 C479 325 486 327 488 328 M386 139 C389 139 395 139 399 139 C404 140 410 141 412 142 M665 166 C667 167 673 170 676 173 C679 176 681 182 682 184 M336 406 C334 406 327 409 323 408 C319 407 316 402 314 399 C312 395 311 391 309 387 C308 383 307 378 304 375 C301 372 295 372 292 370 C288 368 286 363 282 361 C279 358 275 357 271 355 C267 353 264 350 260 348 C256 346 251 345 247 344 C243 344 236 345 234 345 M220 401 C219 403 215 409 213 412 C211 416 209 420 208 424 C208 429 210 434 209 437 C207 441 200 444 198 446 M614 354 C612 355 606 357 603 360 C600 363 598 367 597 371 C595 375 595 380 594 384 C592 388 589 392 586 395 C583 397 577 396 574 398 C570 400 565 405 563 406 M528 60 C530 60 537 60 541 62 C545 64 548 67 551 70 C554 73 558 79 559 80 M451 459 C449 459 442 460 439 463 C436 465 434 472 433 474 M360 204 C358 204 350 205 347 207 C344 210 345 216 342 219 C340 222 333 225 331 226 M438 435 C437 433 435 427 433 423 C430 419 426 415 424 413 M126 404 C128 404 134 401 138 401 C142 402 148 406 150 407 M350 351 C352 352 357 356 361 357 C366 358 371 355 374 356 C378 357 383 363 384 365 M408 262 C410 262 417 259 421 260 C425 261 429 267 431 268 M177 318 C178 316 182 311 185 308 C187 304 192 300 194 298 M246 532 C248 533 256 534 258 537 C261 540 261 548 261 550" stroke="#f9c9b2" stroke-width="9" transform="translate(-6 -8)"/>
<path d="M269 111 C269 109 271 101 270 98 C268 94 263 92 260 89 C258 85 256 81 253 78 C249 75 245 73 241 73 C237 73 233 77 229 79 C225 81 220 85 218 87 M205 325 C207 324 214 323 217 320 C221 317 222 313 225 310 C228 306 231 302 235 301 C239 300 244 303 248 304 C252 305 256 308 260 309 C264 310 270 309 273 311 C276 313 276 320 279 323 C282 325 288 323 291 325 C295 328 296 333 299 336 C302 338 306 341 310 342 C314 343 320 342 323 339 C327 337 329 333 331 329 C332 325 331 319 333 316 C335 312 341 309 343 307 M159 341 C157 341 150 341 146 340 C142 339 138 336 135 334 C131 332 127 329 124 327 C121 324 119 320 116 317 C113 313 110 310 107 307 C104 304 101 301 99 297 C98 293 98 288 98 284 C97 279 95 275 96 271 C97 267 102 264 104 261 C106 257 108 251 109 249 M342 435 C343 437 350 441 351 444 C352 448 348 453 349 457 C350 461 355 464 357 467 C360 471 363 474 364 478 C366 482 366 487 364 491 C363 495 359 498 357 502 C355 505 353 510 353 514 C352 518 352 523 352 527 C352 531 354 536 352 540 C351 544 348 548 345 551 C342 554 336 556 334 558 M287 533 C287 535 287 543 289 546 C291 550 298 552 299 553 M366 324 C368 324 375 325 379 324 C383 323 387 320 391 318 C394 316 398 314 401 311 C404 308 406 303 409 301 C413 299 418 298 422 299 C426 300 428 306 431 308 C435 310 440 310 444 309 C448 308 453 305 455 302 C458 299 460 295 461 291 C462 287 461 282 460 278 C460 273 459 267 459 265 M474 171 C476 171 482 171 487 172 C491 173 495 175 499 176 C503 176 508 177 512 175 C516 174 517 168 521 166 C525 164 530 163 534 165 C538 166 540 171 543 174 C545 178 548 182 548 186 C549 190 548 195 548 199 C548 203 550 208 548 212 C547 216 544 221 540 222 C537 224 529 222 527 222 M544 329 C544 331 543 338 542 342 C541 346 537 350 537 354 C537 358 540 363 543 366 C546 368 552 369 556 369 C560 368 565 367 568 364 C571 362 573 357 575 353 C576 349 578 344 578 340 C577 337 573 332 570 330 C566 329 560 330 557 332 C553 333 549 337 548 341 C546 344 548 352 548 354 M693 359 C693 361 691 367 690 371 C688 375 686 379 684 383 C682 386 679 390 678 394 C678 398 681 403 683 407 C684 411 688 415 687 419 C687 423 683 426 680 430 C678 433 675 437 673 441 C672 445 670 450 671 454 C672 457 677 463 678 465 M597 426 C595 426 588 426 584 427 C580 429 578 435 574 436 C571 437 566 433 562 433 C557 433 553 434 549 434 C544 433 539 432 536 430 C533 427 532 422 531 418 C530 414 532 407 532 405 M250 374 C251 375 258 378 260 381 C262 385 261 390 262 394 C263 398 265 403 268 406 C270 409 275 411 278 413 C282 416 285 419 289 421 C292 424 296 426 299 429 C302 432 304 436 306 440 C309 444 311 448 312 452 C312 456 310 462 309 465 M604 134 C603 136 599 142 599 146 C598 150 600 155 600 159 C601 163 601 168 602 172 C603 176 604 182 607 184 C610 187 615 188 619 187 C623 186 627 182 629 179 C632 176 634 171 635 167 C635 163 633 158 634 154 C634 150 637 144 638 142 M190 151 C191 153 195 160 194 163 C194 167 190 171 187 174 C184 177 179 179 178 183 C176 187 181 192 180 196 C179 200 174 202 172 206 C170 210 170 215 168 219 C166 222 164 227 160 229 C157 232 150 232 148 233 M568 137 C569 135 573 129 575 125 C576 122 578 117 579 113 C580 109 578 104 580 100 C583 97 590 95 592 94 M775 382 C773 383 767 388 766 391 C765 395 769 400 769 404 C769 408 767 413 764 416 C762 420 757 421 755 425 C753 429 756 434 755 438 C753 442 749 445 748 449 C747 453 752 458 751 462 C749 466 743 468 741 471 C740 475 741 481 739 484 C737 488 732 489 729 492 C726 495 723 498 719 500 C715 501 710 501 706 502 C701 502 695 502 693 502 M530 466 C528 467 522 470 520 474 C517 477 518 482 517 486 C515 491 516 496 513 499 C511 502 506 505 502 506 C498 507 493 506 489 506 C485 506 480 505 476 503 C473 501 471 496 467 494 C463 493 458 492 454 494 C450 495 447 499 444 502 C440 504 435 504 432 507 C429 510 427 515 427 519 C427 523 432 528 433 530 M76 388 C78 387 84 384 88 382 C92 381 97 381 101 380 C105 378 109 377 112 374 C115 371 119 365 120 363 M331 255 C329 256 322 258 319 261 C317 264 318 270 317 274 C316 278 316 283 314 287 C312 291 309 296 308 298 M728 335 C726 334 721 330 719 326 C717 322 719 317 717 313 C715 309 709 307 708 304 C706 300 709 295 708 291 C707 287 705 281 702 279 C699 277 691 278 689 277 M499 53 C497 52 492 47 489 45 C485 43 480 44 476 44 C471 44 467 45 463 44 C458 43 455 40 450 40 C446 39 441 39 437 42 C434 44 432 51 431 53 M34 301 C36 300 43 297 47 298 C51 299 53 305 57 306 C61 307 68 305 70 305 M284 475 C283 473 281 467 278 464 C276 460 273 456 269 454 C265 453 260 454 256 455 C252 457 249 461 247 465 C246 469 249 474 249 478 C248 482 245 486 244 490 C244 494 245 501 246 503 M374 114 C372 116 366 119 363 122 C360 125 359 131 356 132 C352 134 347 131 343 132 C338 133 333 134 330 136 C328 139 329 146 326 149 C324 152 318 152 315 155 C312 158 310 162 309 167 C308 171 309 175 311 179 C312 184 315 189 316 191 M479 439 C478 438 472 434 469 431 C467 427 465 423 464 419 C463 415 464 409 462 406 C460 403 453 403 450 400 C448 397 446 392 446 388 C446 384 448 379 450 376 C453 372 455 368 458 365 C462 363 466 360 470 360 C474 359 479 363 483 362 C487 361 490 357 494 355 C498 353 503 350 505 349 M634 430 C633 432 628 437 625 440 C622 443 619 445 616 448 C612 451 610 456 607 458 C603 460 597 458 594 460 C590 462 588 467 584 469 C580 470 575 469 571 471 C567 473 565 477 561 480 C558 482 552 482 550 485 C547 488 547 496 546 498 M397 409 C397 411 394 418 395 422 C396 426 402 429 402 433 C403 437 400 441 400 446 C401 450 406 454 405 457 C405 461 399 465 399 469 C399 472 404 476 404 480 C405 485 402 489 401 493 C401 497 402 503 400 506 C398 509 392 510 389 513 C386 516 384 521 384 525 C384 529 388 534 388 537 C387 541 381 546 380 548 M70 239 C71 237 74 231 76 227 C78 223 78 218 80 215 C83 212 88 211 91 208 C94 205 95 199 98 197 C102 195 107 197 111 195 C115 194 120 189 122 188 M645 368 C647 367 655 365 657 362 C659 359 658 353 660 349 C662 345 666 343 668 339 C671 336 672 331 675 328 C678 326 685 323 687 322 M285 189 C284 187 283 180 281 177 C279 173 275 171 272 167 C269 164 265 162 263 159 C260 155 260 150 257 147 C254 144 248 145 245 143 C241 141 238 136 234 135 C230 134 223 138 221 138 M448 201 C448 203 445 210 446 214 C447 217 454 219 456 223 C457 226 456 233 456 236 M629 484 C631 485 637 486 641 488 C645 491 647 494 651 496 C655 498 662 499 664 500 M380 270 C379 268 376 263 374 259 C373 255 370 251 369 247 C368 243 367 238 368 234 C369 230 374 227 377 225 C381 223 385 222 390 221 C394 220 399 220 403 221 C407 222 410 225 414 227 C418 229 424 231 426 232 M728 375 C727 377 724 383 721 386 C719 390 714 393 713 397 C712 400 714 405 715 409 C717 413 722 417 722 420 C723 424 718 429 718 433 C717 437 720 441 720 446 C719 450 715 455 714 457 M337 378 C339 378 346 380 349 382 C353 384 356 388 359 390 C363 393 369 396 371 397 M589 300 C590 302 594 308 597 310 C600 313 605 315 609 315 C613 316 618 312 622 313 C626 313 630 317 634 317 C638 318 643 318 647 316 C651 315 655 311 657 308 C660 304 661 300 661 295 C661 291 657 285 656 283 M323 511 C324 509 328 503 329 499 C330 495 328 488 327 486 M353 56 C351 57 344 57 340 57 C336 58 331 58 327 60 C323 61 320 65 316 67 C312 68 307 67 303 68 C299 68 292 69 290 69 M486 224 C487 226 491 232 491 236 C492 240 489 245 490 249 C490 253 493 257 493 262 C494 266 490 271 491 274 C493 278 498 280 500 284 C502 288 499 294 501 297 C503 301 508 302 511 306 C513 309 515 316 516 318 M501 141 C499 141 493 138 488 138 C484 138 480 140 476 141 C472 142 467 144 463 143 C459 143 454 141 451 138 C448 136 444 132 443 128 C441 124 443 119 441 115 C440 111 438 107 435 104 C432 101 428 98 424 96 C420 95 416 94 411 95 C407 95 401 98 399 99 M59 351 C61 351 67 350 71 348 C76 347 79 343 83 342 C87 342 94 345 96 346 M534 254 C535 255 538 261 540 265 C543 269 545 274 548 275 C552 277 557 275 561 275 C565 274 570 273 574 271 C578 270 581 266 585 266 C589 266 593 270 597 271 C601 273 606 275 610 275 C614 275 619 273 622 270 C624 267 627 262 627 258 C627 254 623 250 622 246 C620 242 620 238 618 234 C617 230 615 225 612 222 C609 220 603 218 599 218 C596 219 590 224 589 226 M171 283 C169 283 163 281 158 280 C154 279 150 278 146 277 C141 277 135 277 133 277 M408 382 C410 380 417 378 419 374 C421 371 420 366 421 361 C421 357 422 353 422 349 C422 344 420 338 420 336 M515 376 C514 378 513 386 510 389 C507 391 502 393 498 394 C494 394 487 392 485 392 M423 172 C421 172 414 171 410 171 C406 171 401 169 397 170 C393 171 390 177 386 177 C382 178 377 177 373 174 C370 172 369 166 365 164 C362 162 355 161 353 160 M52 401 C52 398 51 391 49 388 C46 385 41 385 37 382 C33 380 28 376 27 375 M266 257 C267 259 270 266 273 268 C276 270 284 269 286 269 M185 404 C184 403 179 398 177 394 C175 391 175 386 175 381 C174 377 171 372 172 369 C173 365 178 362 182 360 C185 357 188 353 192 352 C196 351 202 354 205 354 M253 189 C252 191 247 197 247 201 C247 205 249 210 252 213 C254 216 259 219 262 221 C266 223 271 226 274 226 C278 226 282 220 286 219 C290 218 296 220 299 220 M616 405 C618 403 623 398 626 397 C630 395 635 395 639 396 C644 396 650 399 652 400 M744 308 C746 309 753 311 755 315 C758 318 760 322 761 326 C762 330 760 335 760 339 C760 344 761 350 761 352 M467 88 C467 91 468 97 470 101 C471 105 474 111 475 113 M226 231 C225 233 223 239 221 243 C220 247 219 252 217 256 C214 259 210 262 206 263 C202 264 195 263 193 263 M667 231 C666 233 663 238 662 242 C661 247 660 253 660 255 M692 214 C693 216 697 222 700 225 C703 228 707 229 711 232 C714 235 718 238 720 241 C723 244 726 248 727 252 C728 256 725 261 727 265 C729 268 735 272 737 273 M219 192 C218 194 219 201 217 204 C215 208 210 210 207 212 C203 215 198 218 196 220 M528 113 C526 111 522 107 520 103 C517 99 517 94 515 91 C512 88 506 85 504 83 M394 62 C392 63 385 64 382 67 C379 69 379 75 376 78 C373 81 368 82 364 84 C360 85 357 89 353 90 C349 90 344 88 340 89 C335 89 331 91 328 94 C324 96 320 99 318 102 C315 106 315 110 313 114 C310 118 308 121 305 124 C302 127 298 130 294 132 C290 134 284 136 282 137 M662 202 C660 203 655 207 651 209 C647 210 640 211 638 211 M175 127 C177 126 183 124 187 122 C190 119 195 115 197 114 M173 430 C171 431 164 432 161 433 C157 435 153 438 150 440 C146 443 141 447 139 448 M130 149 C132 150 138 154 142 154 C146 155 152 152 154 151 M71 422 C69 423 63 426 59 429 C56 431 52 437 51 438 M103 421 C102 423 99 429 99 434 C99 438 102 444 103 446 M452 337 C454 336 460 333 464 331 C467 329 471 326 475 325 C479 325 486 327 488 328 M386 139 C389 139 395 139 399 139 C404 140 410 141 412 142 M665 166 C667 167 673 170 676 173 C679 176 681 182 682 184 M336 406 C334 406 327 409 323 408 C319 407 316 402 314 399 C312 395 311 391 309 387 C308 383 307 378 304 375 C301 372 295 372 292 370 C288 368 286 363 282 361 C279 358 275 357 271 355 C267 353 264 350 260 348 C256 346 251 345 247 344 C243 344 236 345 234 345 M220 401 C219 403 215 409 213 412 C211 416 209 420 208 424 C208 429 210 434 209 437 C207 441 200 444 198 446 M614 354 C612 355 606 357 603 360 C600 363 598 367 597 371 C595 375 595 380 594 384 C592 388 589 392 586 395 C583 397 577 396 574 398 C570 400 565 405 563 406 M528 60 C530 60 537 60 541 62 C545 64 548 67 551 70 C554 73 558 79 559 80 M451 459 C449 459 442 460 439 463 C436 465 434 472 433 474 M360 204 C358 204 350 205 347 207 C344 210 345 216 342 219 C340 222 333 225 331 226 M438 435 C437 433 435 427 433 423 C430 419 426 415 424 413 M126 404 C128 404 134 401 138 401 C142 402 148 406 150 407 M350 351 C352 352 357 356 361 357 C366 358 371 355 374 356 C378 357 383 363 384 365 M408 262 C410 262 417 259 421 260 C425 261 429 267 431 268 M177 318 C178 316 182 311 185 308 C187 304 192 300 194 298 M246 532 C248 533 256 534 258 537 C261 540 261 548 261 550" stroke="#e88a6f" stroke-width="13" transform="translate(2 3)"/>
<path d="M269 111 C269 109 271 101 270 98 C268 94 263 92 260 89 C258 85 256 81 253 78 C249 75 245 73 241 73 C237 73 233 77 229 79 C225 81 220 85 218 87 M205 325 C207 324 214 323 217 320 C221 317 222 313 225 310 C228 306 231 302 235 301 C239 300 244 303 248 304 C252 305 256 308 260 309 C264 310 270 309 273 311 C276 313 276 320 279 323 C282 325 288 323 291 325 C295 328 296 333 299 336 C302 338 306 341 310 342 C314 343 320 342 323 339 C327 337 329 333 331 329 C332 325 331 319 333 316 C335 312 341 309 343 307 M159 341 C157 341 150 341 146 340 C142 339 138 336 135 334 C131 332 127 329 124 327 C121 324 119 320 116 317 C113 313 110 310 107 307 C104 304 101 301 99 297 C98 293 98 288 98 284 C97 279 95 275 96 271 C97 267 102 264 104 261 C106 257 108 251 109 249 M342 435 C343 437 350 441 351 444 C352 448 348 453 349 457 C350 461 355 464 357 467 C360 471 363 474 364 478 C366 482 366 487 364 491 C363 495 359 498 357 502 C355 505 353 510 353 514 C352 518 352 523 352 527 C352 531 354 536 352 540 C351 544 348 548 345 551 C342 554 336 556 334 558 M287 533 C287 535 287 543 289 546 C291 550 298 552 299 553 M366 324 C368 324 375 325 379 324 C383 323 387 320 391 318 C394 316 398 314 401 311 C404 308 406 303 409 301 C413 299 418 298 422 299 C426 300 428 306 431 308 C435 310 440 310 444 309 C448 308 453 305 455 302 C458 299 460 295 461 291 C462 287 461 282 460 278 C460 273 459 267 459 265 M474 171 C476 171 482 171 487 172 C491 173 495 175 499 176 C503 176 508 177 512 175 C516 174 517 168 521 166 C525 164 530 163 534 165 C538 166 540 171 543 174 C545 178 548 182 548 186 C549 190 548 195 548 199 C548 203 550 208 548 212 C547 216 544 221 540 222 C537 224 529 222 527 222 M544 329 C544 331 543 338 542 342 C541 346 537 350 537 354 C537 358 540 363 543 366 C546 368 552 369 556 369 C560 368 565 367 568 364 C571 362 573 357 575 353 C576 349 578 344 578 340 C577 337 573 332 570 330 C566 329 560 330 557 332 C553 333 549 337 548 341 C546 344 548 352 548 354 M693 359 C693 361 691 367 690 371 C688 375 686 379 684 383 C682 386 679 390 678 394 C678 398 681 403 683 407 C684 411 688 415 687 419 C687 423 683 426 680 430 C678 433 675 437 673 441 C672 445 670 450 671 454 C672 457 677 463 678 465 M597 426 C595 426 588 426 584 427 C580 429 578 435 574 436 C571 437 566 433 562 433 C557 433 553 434 549 434 C544 433 539 432 536 430 C533 427 532 422 531 418 C530 414 532 407 532 405 M250 374 C251 375 258 378 260 381 C262 385 261 390 262 394 C263 398 265 403 268 406 C270 409 275 411 278 413 C282 416 285 419 289 421 C292 424 296 426 299 429 C302 432 304 436 306 440 C309 444 311 448 312 452 C312 456 310 462 309 465 M604 134 C603 136 599 142 599 146 C598 150 600 155 600 159 C601 163 601 168 602 172 C603 176 604 182 607 184 C610 187 615 188 619 187 C623 186 627 182 629 179 C632 176 634 171 635 167 C635 163 633 158 634 154 C634 150 637 144 638 142 M190 151 C191 153 195 160 194 163 C194 167 190 171 187 174 C184 177 179 179 178 183 C176 187 181 192 180 196 C179 200 174 202 172 206 C170 210 170 215 168 219 C166 222 164 227 160 229 C157 232 150 232 148 233 M568 137 C569 135 573 129 575 125 C576 122 578 117 579 113 C580 109 578 104 580 100 C583 97 590 95 592 94 M775 382 C773 383 767 388 766 391 C765 395 769 400 769 404 C769 408 767 413 764 416 C762 420 757 421 755 425 C753 429 756 434 755 438 C753 442 749 445 748 449 C747 453 752 458 751 462 C749 466 743 468 741 471 C740 475 741 481 739 484 C737 488 732 489 729 492 C726 495 723 498 719 500 C715 501 710 501 706 502 C701 502 695 502 693 502 M530 466 C528 467 522 470 520 474 C517 477 518 482 517 486 C515 491 516 496 513 499 C511 502 506 505 502 506 C498 507 493 506 489 506 C485 506 480 505 476 503 C473 501 471 496 467 494 C463 493 458 492 454 494 C450 495 447 499 444 502 C440 504 435 504 432 507 C429 510 427 515 427 519 C427 523 432 528 433 530 M76 388 C78 387 84 384 88 382 C92 381 97 381 101 380 C105 378 109 377 112 374 C115 371 119 365 120 363 M331 255 C329 256 322 258 319 261 C317 264 318 270 317 274 C316 278 316 283 314 287 C312 291 309 296 308 298 M728 335 C726 334 721 330 719 326 C717 322 719 317 717 313 C715 309 709 307 708 304 C706 300 709 295 708 291 C707 287 705 281 702 279 C699 277 691 278 689 277 M499 53 C497 52 492 47 489 45 C485 43 480 44 476 44 C471 44 467 45 463 44 C458 43 455 40 450 40 C446 39 441 39 437 42 C434 44 432 51 431 53 M34 301 C36 300 43 297 47 298 C51 299 53 305 57 306 C61 307 68 305 70 305 M284 475 C283 473 281 467 278 464 C276 460 273 456 269 454 C265 453 260 454 256 455 C252 457 249 461 247 465 C246 469 249 474 249 478 C248 482 245 486 244 490 C244 494 245 501 246 503 M374 114 C372 116 366 119 363 122 C360 125 359 131 356 132 C352 134 347 131 343 132 C338 133 333 134 330 136 C328 139 329 146 326 149 C324 152 318 152 315 155 C312 158 310 162 309 167 C308 171 309 175 311 179 C312 184 315 189 316 191 M479 439 C478 438 472 434 469 431 C467 427 465 423 464 419 C463 415 464 409 462 406 C460 403 453 403 450 400 C448 397 446 392 446 388 C446 384 448 379 450 376 C453 372 455 368 458 365 C462 363 466 360 470 360 C474 359 479 363 483 362 C487 361 490 357 494 355 C498 353 503 350 505 349 M634 430 C633 432 628 437 625 440 C622 443 619 445 616 448 C612 451 610 456 607 458 C603 460 597 458 594 460 C590 462 588 467 584 469 C580 470 575 469 571 471 C567 473 565 477 561 480 C558 482 552 482 550 485 C547 488 547 496 546 498 M397 409 C397 411 394 418 395 422 C396 426 402 429 402 433 C403 437 400 441 400 446 C401 450 406 454 405 457 C405 461 399 465 399 469 C399 472 404 476 404 480 C405 485 402 489 401 493 C401 497 402 503 400 506 C398 509 392 510 389 513 C386 516 384 521 384 525 C384 529 388 534 388 537 C387 541 381 546 380 548 M70 239 C71 237 74 231 76 227 C78 223 78 218 80 215 C83 212 88 211 91 208 C94 205 95 199 98 197 C102 195 107 197 111 195 C115 194 120 189 122 188 M645 368 C647 367 655 365 657 362 C659 359 658 353 660 349 C662 345 666 343 668 339 C671 336 672 331 675 328 C678 326 685 323 687 322 M285 189 C284 187 283 180 281 177 C279 173 275 171 272 167 C269 164 265 162 263 159 C260 155 260 150 257 147 C254 144 248 145 245 143 C241 141 238 136 234 135 C230 134 223 138 221 138 M448 201 C448 203 445 210 446 214 C447 217 454 219 456 223 C457 226 456 233 456 236 M629 484 C631 485 637 486 641 488 C645 491 647 494 651 496 C655 498 662 499 664 500 M380 270 C379 268 376 263 374 259 C373 255 370 251 369 247 C368 243 367 238 368 234 C369 230 374 227 377 225 C381 223 385 222 390 221 C394 220 399 220 403 221 C407 222 410 225 414 227 C418 229 424 231 426 232 M728 375 C727 377 724 383 721 386 C719 390 714 393 713 397 C712 400 714 405 715 409 C717 413 722 417 722 420 C723 424 718 429 718 433 C717 437 720 441 720 446 C719 450 715 455 714 457 M337 378 C339 378 346 380 349 382 C353 384 356 388 359 390 C363 393 369 396 371 397 M589 300 C590 302 594 308 597 310 C600 313 605 315 609 315 C613 316 618 312 622 313 C626 313 630 317 634 317 C638 318 643 318 647 316 C651 315 655 311 657 308 C660 304 661 300 661 295 C661 291 657 285 656 283 M323 511 C324 509 328 503 329 499 C330 495 328 488 327 486 M353 56 C351 57 344 57 340 57 C336 58 331 58 327 60 C323 61 320 65 316 67 C312 68 307 67 303 68 C299 68 292 69 290 69 M486 224 C487 226 491 232 491 236 C492 240 489 245 490 249 C490 253 493 257 493 262 C494 266 490 271 491 274 C493 278 498 280 500 284 C502 288 499 294 501 297 C503 301 508 302 511 306 C513 309 515 316 516 318 M501 141 C499 141 493 138 488 138 C484 138 480 140 476 141 C472 142 467 144 463 143 C459 143 454 141 451 138 C448 136 444 132 443 128 C441 124 443 119 441 115 C440 111 438 107 435 104 C432 101 428 98 424 96 C420 95 416 94 411 95 C407 95 401 98 399 99 M59 351 C61 351 67 350 71 348 C76 347 79 343 83 342 C87 342 94 345 96 346 M534 254 C535 255 538 261 540 265 C543 269 545 274 548 275 C552 277 557 275 561 275 C565 274 570 273 574 271 C578 270 581 266 585 266 C589 266 593 270 597 271 C601 273 606 275 610 275 C614 275 619 273 622 270 C624 267 627 262 627 258 C627 254 623 250 622 246 C620 242 620 238 618 234 C617 230 615 225 612 222 C609 220 603 218 599 218 C596 219 590 224 589 226 M171 283 C169 283 163 281 158 280 C154 279 150 278 146 277 C141 277 135 277 133 277 M408 382 C410 380 417 378 419 374 C421 371 420 366 421 361 C421 357 422 353 422 349 C422 344 420 338 420 336 M515 376 C514 378 513 386 510 389 C507 391 502 393 498 394 C494 394 487 392 485 392 M423 172 C421 172 414 171 410 171 C406 171 401 169 397 170 C393 171 390 177 386 177 C382 178 377 177 373 174 C370 172 369 166 365 164 C362 162 355 161 353 160 M52 401 C52 398 51 391 49 388 C46 385 41 385 37 382 C33 380 28 376 27 375 M266 257 C267 259 270 266 273 268 C276 270 284 269 286 269 M185 404 C184 403 179 398 177 394 C175 391 175 386 175 381 C174 377 171 372 172 369 C173 365 178 362 182 360 C185 357 188 353 192 352 C196 351 202 354 205 354 M253 189 C252 191 247 197 247 201 C247 205 249 210 252 213 C254 216 259 219 262 221 C266 223 271 226 274 226 C278 226 282 220 286 219 C290 218 296 220 299 220 M616 405 C618 403 623 398 626 397 C630 395 635 395 639 396 C644 396 650 399 652 400 M744 308 C746 309 753 311 755 315 C758 318 760 322 761 326 C762 330 760 335 760 339 C760 344 761 350 761 352 M467 88 C467 91 468 97 470 101 C471 105 474 111 475 113 M226 231 C225 233 223 239 221 243 C220 247 219 252 217 256 C214 259 210 262 206 263 C202 264 195 263 193 263 M667 231 C666 233 663 238 662 242 C661 247 660 253 660 255 M692 214 C693 216 697 222 700 225 C703 228 707 229 711 232 C714 235 718 238 720 241 C723 244 726 248 727 252 C728 256 725 261 727 265 C729 268 735 272 737 273 M219 192 C218 194 219 201 217 204 C215 208 210 210 207 212 C203 215 198 218 196 220 M528 113 C526 111 522 107 520 103 C517 99 517 94 515 91 C512 88 506 85 504 83 M394 62 C392 63 385 64 382 67 C379 69 379 75 376 78 C373 81 368 82 364 84 C360 85 357 89 353 90 C349 90 344 88 340 89 C335 89 331 91 328 94 C324 96 320 99 318 102 C315 106 315 110 313 114 C310 118 308 121 305 124 C302 127 298 130 294 132 C290 134 284 136 282 137 M662 202 C660 203 655 207 651 209 C647 210 640 211 638 211 M175 127 C177 126 183 124 187 122 C190 119 195 115 197 114 M173 430 C171 431 164 432 161 433 C157 435 153 438 150 440 C146 443 141 447 139 448 M130 149 C132 150 138 154 142 154 C146 155 152 152 154 151 M71 422 C69 423 63 426 59 429 C56 431 52 437 51 438 M103 421 C102 423 99 429 99 434 C99 438 102 444 103 446 M452 337 C454 336 460 333 464 331 C467 329 471 326 475 325 C479 325 486 327 488 328 M386 139 C389 139 395 139 399 139 C404 140 410 141 412 142 M665 166 C667 167 673 170 676 173 C679 176 681 182 682 184 M336 406 C334 406 327 409 323 408 C319 407 316 402 314 399 C312 395 311 391 309 387 C308 383 307 378 304 375 C301 372 295 372 292 370 C288 368 286 363 282 361 C279 358 275 357 271 355 C267 353 264 350 260 348 C256 346 251 345 247 344 C243 344 236 345 234 345 M220 401 C219 403 215 409 213 412 C211 416 209 420 208 424 C208 429 210 434 209 437 C207 441 200 444 198 446 M614 354 C612 355 606 357 603 360 C600 363 598 367 597 371 C595 375 595 380 594 384 C592 388 589 392 586 395 C583 397 577 396 574 398 C570 400 565 405 563 406 M528 60 C530 60 537 60 541 62 C545 64 548 67 551 70 C554 73 558 79 559 80 M451 459 C449 459 442 460 439 463 C436 465 434 472 433 474 M360 204 C358 204 350 205 347 207 C344 210 345 216 342 219 C340 222 333 225 331 226 M438 435 C437 433 435 427 433 423 C430 419 426 415 424 413 M126 404 C128 404 134 401 138 401 C142 402 148 406 150 407 M350 351 C352 352 357 356 361 357 C366 358 371 355 374 356 C378 357 383 363 384 365 M408 262 C410 262 417 259 421 260 C425 261 429 267 431 268 M177 318 C178 316 182 311 185 308 C187 304 192 300 194 298 M246 532 C248 533 256 534 258 537 C261 540 261 548 261 550" stroke="#d55f47" stroke-width="5.5"/>
</g>
<path d="M40 440 C26 428 27 402 25 380 C23 358 24 335 30 310 C36 285 47 255 60 230 C73 205 90 182 110 160 C130 138 153 117 180 100 C207 83 238 70 270 60 C302 50 337 44 370 40 C403 36 439 34 470 38 C501 42 529 51 555 64 C581 77 606 95 628 116 C650 137 672 165 690 190 C708 215 724 242 738 268 C752 294 764 320 772 345 C780 370 785 398 784 420 C783 442 776 466 765 480 C754 494 738 502 720 505 C702 508 680 500 660 500 C640 500 620 505 600 505 C580 505 562 498 540 500 C518 502 493 512 470 520 C447 528 423 538 400 545 C377 552 353 559 330 560 C307 561 278 557 260 550 C242 543 226 532 220 520 C214 508 220 491 225 480 C230 469 258 461 250 455 C242 449 203 446 180 445 C157 444 133 451 110 450 C87 449 54 452 40 440Z" fill="none" stroke="#e88f76" stroke-width="4"/>
</g>
<!-- 52_gut.svg -->
<g id="gut" transform="translate(595 268) scale(0.17576)">
<path d="M385 680 C395 740 400 780 405 830 L450 830 C452 780 470 730 490 690Z" fill="#ee8288"/>
<path d="M385 680 C395 740 400 780 405 830 L420 830 C415 770 410 720 405 680Z" fill="#e0656f"/>
<path d="M440 700 C438 750 436 790 436 830" fill="none" stroke="#f7aeae" stroke-width="8" stroke-linecap="round" opacity="0.8"/>
<path d="M125 240 L160 190 L240 200 L320 230 L420 245 L500 228 L575 200 L660 200 L684 260 L684 360 L678 460 L648 560 L600 640 L530 665 L470 650 L440 690 L340 690 L290 620 L230 590 L170 540 L128 440Z" fill="#a9333f"/>
<path d="M230 600 C220 590 187 567 170 540 C153 513 137 475 128 440 C119 405 118 363 118 330 C118 297 118 264 125 240 C132 216 141 192 160 185 C179 178 213 188 240 195 C267 202 290 220 320 228 C350 236 390 242 420 242 C450 242 477 237 500 225 C523 213 544 191 560 172 C576 153 587 129 598 112 C609 95 614 81 625 72 C636 63 652 54 662 58 C672 62 683 78 686 98 C689 118 683 148 682 175 C681 202 680 229 680 260 C680 291 684 327 684 360 C684 393 684 427 678 460 C672 493 661 530 648 560 C635 590 618 622 598 640 C578 658 551 666 530 668 C509 670 480 657 470 655" fill="none" stroke="#ee8388" stroke-width="70" stroke-linecap="round" stroke-linejoin="round"/>
<path d="M150 400 C170 470 200 530 250 590" fill="none" stroke="#ef868b" stroke-width="105" stroke-linecap="round"/>
<path d="M160 420 C185 480 215 530 262 575" fill="none" stroke="#e56d77" stroke-width="4" opacity="0.6"/>
<path d="M636 95 C640 130 645 170 648 215" fill="none" stroke="#ee8388" stroke-width="50" stroke-linecap="round"/>
<path d="M628 100 C632 130 636 160 640 200" fill="none" stroke="#e0636e" stroke-width="4" opacity="0.7"/>
<g fill="#e87680"><circle cx="221" cy="610" r="29"/><circle cx="239" cy="590" r="29"/><circle cx="181" cy="575" r="29"/><circle cx="204" cy="558" r="29"/><circle cx="150" cy="533" r="29"/><circle cx="175" cy="521" r="29"/><circle cx="128" cy="486" r="29"/><circle cx="155" cy="478" r="29"/><circle cx="113" cy="436" r="29"/><circle cx="141" cy="432" r="29"/><circle cx="106" cy="385" r="29"/><circle cx="134" cy="384" r="29"/><circle cx="104" cy="335" r="29"/><circle cx="132" cy="335" r="29"/><circle cx="105" cy="283" r="29"/><circle cx="132" cy="287" r="29"/><circle cx="114" cy="229" r="29"/><circle cx="139" cy="242" r="29"/><circle cx="147" cy="178" r="29"/><circle cx="151" cy="206" r="29"/><circle cx="200" cy="171" r="29"/><circle cx="193" cy="198" r="29"/><circle cx="251" cy="184" r="29"/><circle cx="240" cy="209" r="29"/><circle cx="295" cy="204" r="29"/><circle cx="287" cy="230" r="29"/><circle cx="341" cy="219" r="29"/><circle cx="336" cy="246" r="29"/><circle cx="388" cy="226" r="29"/><circle cx="387" cy="254" r="29"/><circle cx="435" cy="227" r="29"/><circle cx="440" cy="255" r="29"/><circle cx="479" cy="219" r="29"/><circle cx="494" cy="243" r="29"/><circle cx="518" cy="195" r="29"/><circle cx="539" cy="214" r="29"/><circle cx="551" cy="161" r="29"/><circle cx="575" cy="176" r="29"/><circle cx="578" cy="119" r="29"/><circle cx="602" cy="133" r="29"/><circle cx="608" cy="72" r="29"/><circle cx="623" cy="95" r="29"/><circle cx="667" cy="48" r="29"/><circle cx="645" cy="66" r="29"/><circle cx="699" cy="94" r="29"/><circle cx="671" cy="94" r="29"/><circle cx="699" cy="144" r="29"/><circle cx="671" cy="143" r="29"/><circle cx="695" cy="194" r="29"/><circle cx="667" cy="193" r="29"/><circle cx="694" cy="243" r="29"/><circle cx="666" cy="244" r="29"/><circle cx="695" cy="293" r="29"/><circle cx="667" cy="294" r="29"/><circle cx="698" cy="343" r="29"/><circle cx="670" cy="343" r="29"/><circle cx="698" cy="394" r="29"/><circle cx="670" cy="392" r="29"/><circle cx="694" cy="446" r="29"/><circle cx="667" cy="440" r="29"/><circle cx="684" cy="496" r="29"/><circle cx="658" cy="488" r="29"/><circle cx="669" cy="546" r="29"/><circle cx="643" cy="534" r="29"/><circle cx="648" cy="593" r="29"/><circle cx="624" cy="578" r="29"/><circle cx="618" cy="639" r="29"/><circle cx="601" cy="617" r="29"/><circle cx="573" cy="671" r="29"/><circle cx="567" cy="644" r="29"/><circle cx="518" cy="682" r="29"/><circle cx="525" cy="655" r="29"/><circle cx="470" cy="669" r="29"/><circle cx="477" cy="642" r="29"/></g>
<g fill="#ee8388"><circle cx="221" cy="610" r="26"/><circle cx="239" cy="590" r="26"/><circle cx="181" cy="575" r="26"/><circle cx="204" cy="558" r="26"/><circle cx="150" cy="533" r="26"/><circle cx="175" cy="521" r="26"/><circle cx="128" cy="486" r="26"/><circle cx="155" cy="478" r="26"/><circle cx="113" cy="436" r="26"/><circle cx="141" cy="432" r="26"/><circle cx="106" cy="385" r="26"/><circle cx="134" cy="384" r="26"/><circle cx="104" cy="335" r="26"/><circle cx="132" cy="335" r="26"/><circle cx="105" cy="283" r="26"/><circle cx="132" cy="287" r="26"/><circle cx="114" cy="229" r="26"/><circle cx="139" cy="242" r="26"/><circle cx="147" cy="178" r="26"/><circle cx="151" cy="206" r="26"/><circle cx="200" cy="171" r="26"/><circle cx="193" cy="198" r="26"/><circle cx="251" cy="184" r="26"/><circle cx="240" cy="209" r="26"/><circle cx="295" cy="204" r="26"/><circle cx="287" cy="230" r="26"/><circle cx="341" cy="219" r="26"/><circle cx="336" cy="246" r="26"/><circle cx="388" cy="226" r="26"/><circle cx="387" cy="254" r="26"/><circle cx="435" cy="227" r="26"/><circle cx="440" cy="255" r="26"/><circle cx="479" cy="219" r="26"/><circle cx="494" cy="243" r="26"/><circle cx="518" cy="195" r="26"/><circle cx="539" cy="214" r="26"/><circle cx="551" cy="161" r="26"/><circle cx="575" cy="176" r="26"/><circle cx="578" cy="119" r="26"/><circle cx="602" cy="133" r="26"/><circle cx="608" cy="72" r="26"/><circle cx="623" cy="95" r="26"/><circle cx="667" cy="48" r="26"/><circle cx="645" cy="66" r="26"/><circle cx="699" cy="94" r="26"/><circle cx="671" cy="94" r="26"/><circle cx="699" cy="144" r="26"/><circle cx="671" cy="143" r="26"/><circle cx="695" cy="194" r="26"/><circle cx="667" cy="193" r="26"/><circle cx="694" cy="243" r="26"/><circle cx="666" cy="244" r="26"/><circle cx="695" cy="293" r="26"/><circle cx="667" cy="294" r="26"/><circle cx="698" cy="343" r="26"/><circle cx="670" cy="343" r="26"/><circle cx="698" cy="394" r="26"/><circle cx="670" cy="392" r="26"/><circle cx="694" cy="446" r="26"/><circle cx="667" cy="440" r="26"/><circle cx="684" cy="496" r="26"/><circle cx="658" cy="488" r="26"/><circle cx="669" cy="546" r="26"/><circle cx="643" cy="534" r="26"/><circle cx="648" cy="593" r="26"/><circle cx="624" cy="578" r="26"/><circle cx="618" cy="639" r="26"/><circle cx="601" cy="617" r="26"/><circle cx="573" cy="671" r="26"/><circle cx="567" cy="644" r="26"/><circle cx="518" cy="682" r="26"/><circle cx="525" cy="655" r="26"/><circle cx="470" cy="669" r="26"/><circle cx="477" cy="642" r="26"/></g>
<g fill="#f5a3a4" opacity="0.8"><ellipse cx="218" cy="605" rx="17" ry="13"/><ellipse cx="236" cy="585" rx="17" ry="13"/><ellipse cx="178" cy="570" rx="17" ry="13"/><ellipse cx="201" cy="553" rx="17" ry="13"/><ellipse cx="147" cy="528" rx="17" ry="13"/><ellipse cx="172" cy="516" rx="17" ry="13"/><ellipse cx="125" cy="481" rx="17" ry="13"/><ellipse cx="152" cy="473" rx="17" ry="13"/><ellipse cx="110" cy="431" rx="17" ry="13"/><ellipse cx="138" cy="427" rx="17" ry="13"/><ellipse cx="103" cy="380" rx="17" ry="13"/><ellipse cx="131" cy="379" rx="17" ry="13"/><ellipse cx="101" cy="330" rx="17" ry="13"/><ellipse cx="129" cy="330" rx="17" ry="13"/><ellipse cx="102" cy="278" rx="17" ry="13"/><ellipse cx="129" cy="282" rx="17" ry="13"/><ellipse cx="111" cy="224" rx="17" ry="13"/><ellipse cx="136" cy="237" rx="17" ry="13"/><ellipse cx="144" cy="173" rx="17" ry="13"/><ellipse cx="148" cy="201" rx="17" ry="13"/><ellipse cx="197" cy="166" rx="17" ry="13"/><ellipse cx="190" cy="193" rx="17" ry="13"/><ellipse cx="248" cy="179" rx="17" ry="13"/><ellipse cx="237" cy="204" rx="17" ry="13"/><ellipse cx="292" cy="199" rx="17" ry="13"/><ellipse cx="284" cy="225" rx="17" ry="13"/><ellipse cx="338" cy="214" rx="17" ry="13"/><ellipse cx="333" cy="241" rx="17" ry="13"/><ellipse cx="385" cy="221" rx="17" ry="13"/><ellipse cx="384" cy="249" rx="17" ry="13"/><ellipse cx="432" cy="222" rx="17" ry="13"/><ellipse cx="437" cy="250" rx="17" ry="13"/><ellipse cx="476" cy="214" rx="17" ry="13"/><ellipse cx="491" cy="238" rx="17" ry="13"/><ellipse cx="515" cy="190" rx="17" ry="13"/><ellipse cx="536" cy="209" rx="17" ry="13"/><ellipse cx="548" cy="156" rx="17" ry="13"/><ellipse cx="572" cy="171" rx="17" ry="13"/><ellipse cx="575" cy="114" rx="17" ry="13"/><ellipse cx="599" cy="128" rx="17" ry="13"/><ellipse cx="605" cy="67" rx="17" ry="13"/><ellipse cx="620" cy="90" rx="17" ry="13"/><ellipse cx="664" cy="43" rx="17" ry="13"/><ellipse cx="642" cy="61" rx="17" ry="13"/><ellipse cx="696" cy="89" rx="17" ry="13"/><ellipse cx="668" cy="89" rx="17" ry="13"/><ellipse cx="696" cy="139" rx="17" ry="13"/><ellipse cx="668" cy="138" rx="17" ry="13"/><ellipse cx="692" cy="189" rx="17" ry="13"/><ellipse cx="664" cy="188" rx="17" ry="13"/><ellipse cx="691" cy="238" rx="17" ry="13"/><ellipse cx="663" cy="239" rx="17" ry="13"/><ellipse cx="692" cy="288" rx="17" ry="13"/><ellipse cx="664" cy="289" rx="17" ry="13"/><ellipse cx="695" cy="338" rx="17" ry="13"/><ellipse cx="667" cy="338" rx="17" ry="13"/><ellipse cx="695" cy="389" rx="17" ry="13"/><ellipse cx="667" cy="387" rx="17" ry="13"/><ellipse cx="691" cy="441" rx="17" ry="13"/><ellipse cx="664" cy="435" rx="17" ry="13"/><ellipse cx="681" cy="491" rx="17" ry="13"/><ellipse cx="655" cy="483" rx="17" ry="13"/><ellipse cx="666" cy="541" rx="17" ry="13"/><ellipse cx="640" cy="529" rx="17" ry="13"/><ellipse cx="645" cy="588" rx="17" ry="13"/><ellipse cx="621" cy="573" rx="17" ry="13"/><ellipse cx="615" cy="634" rx="17" ry="13"/><ellipse cx="598" cy="612" rx="17" ry="13"/><ellipse cx="570" cy="666" rx="17" ry="13"/><ellipse cx="564" cy="639" rx="17" ry="13"/><ellipse cx="515" cy="677" rx="17" ry="13"/><ellipse cx="522" cy="650" rx="17" ry="13"/><ellipse cx="467" cy="664" rx="17" ry="13"/><ellipse cx="474" cy="637" rx="17" ry="13"/></g>
<path d="M150 235 C150 249 148 292 150 320 C152 348 156 375 165 400 C174 425 184 450 205 470 C226 490 276 512 290 520" fill="none" stroke="#fbd9d3" stroke-width="3.5" opacity="0.9"/>
<path d="M200 185 C217 188 267 200 300 205 C333 210 367 218 400 218 C433 218 473 215 500 205 C527 195 542 176 560 160 C578 144 602 118 610 110" fill="none" stroke="#fbd9d3" stroke-width="3.5" opacity="0.9"/>
<path d="M662 370 C661 387 661 438 655 470 C649 502 640 532 625 560 C610 588 589 632 565 640 C541 648 494 611 480 605" fill="none" stroke="#fbd9d3" stroke-width="3.5" opacity="0.9"/>
<path d="M175 250 C181 235 179 223 200 222 C221 221 263 235 300 242 C337 249 383 261 420 262 C457 263 492 260 520 250 C548 240 565 209 585 200 C605 191 627 181 640 198 C653 215 657 266 662 300 C667 334 668 370 668 400 C668 430 672 460 662 480 C652 500 617 503 605 520 C593 537 604 565 592 580 C580 595 550 608 530 612 C510 616 485 597 470 602 C455 607 453 629 442 642 C431 655 419 674 402 682 C385 690 357 699 340 692 C323 685 310 664 300 642 C290 620 285 587 280 560 C275 533 280 502 268 482 C256 462 225 459 210 442 C195 425 188 402 180 380 C172 358 165 332 164 310 C163 288 169 265 175 250Z" fill="#ad3743"/>
<path d="M250 252 C330 250 420 272 520 262" fill="none" stroke="#8e2532" stroke-width="34" stroke-linecap="round" opacity="0.55"/>
<path d="M205 318 C270 285 380 300 450 315" fill="none" stroke="#8e2532" stroke-width="54" stroke-linecap="round" opacity="0.55"/>
<path d="M218 412 C275 358 380 375 440 392" fill="none" stroke="#8e2532" stroke-width="58" stroke-linecap="round" opacity="0.55"/>
<path d="M310 470 C340 415 372 440 358 520 C350 580 325 600 340 650" fill="none" stroke="#8e2532" stroke-width="66" stroke-linecap="round" opacity="0.55"/>
<path d="M405 478 C450 440 505 480 525 548" fill="none" stroke="#8e2532" stroke-width="54" stroke-linecap="round" opacity="0.55"/>
<path d="M480 318 C520 280 580 290 595 332" fill="none" stroke="#8e2532" stroke-width="48" stroke-linecap="round" opacity="0.55"/>
<path d="M498 392 C540 360 600 380 615 428" fill="none" stroke="#8e2532" stroke-width="48" stroke-linecap="round" opacity="0.55"/>
<path d="M612 250 C636 236 652 258 644 296" fill="none" stroke="#8e2532" stroke-width="42" stroke-linecap="round" opacity="0.55"/>
<path d="M620 325 C646 322 656 352 646 384" fill="none" stroke="#8e2532" stroke-width="42" stroke-linecap="round" opacity="0.55"/>
<path d="M545 525 C565 502 592 522 584 565" fill="none" stroke="#8e2532" stroke-width="42" stroke-linecap="round" opacity="0.55"/>
<path d="M345 655 C378 690 425 660 442 600" fill="none" stroke="#8e2532" stroke-width="54" stroke-linecap="round" opacity="0.55"/>
<path d="M440 432 C480 420 540 440 585 472" fill="none" stroke="#8e2532" stroke-width="42" stroke-linecap="round" opacity="0.55"/>
<path d="M575 445 C610 430 640 440 650 470" fill="none" stroke="#8e2532" stroke-width="38" stroke-linecap="round" opacity="0.55"/>
<path d="M250 252 C330 250 420 272 520 262" fill="none" stroke="#d2606a" stroke-width="26" stroke-linecap="round"/>
<path d="M205 318 C270 285 380 300 450 315" fill="none" stroke="#d2606a" stroke-width="46" stroke-linecap="round"/>
<path d="M218 412 C275 358 380 375 440 392" fill="none" stroke="#d2606a" stroke-width="50" stroke-linecap="round"/>
<path d="M310 470 C340 415 372 440 358 520 C350 580 325 600 340 650" fill="none" stroke="#d2606a" stroke-width="58" stroke-linecap="round"/>
<path d="M405 478 C450 440 505 480 525 548" fill="none" stroke="#d2606a" stroke-width="46" stroke-linecap="round"/>
<path d="M480 318 C520 280 580 290 595 332" fill="none" stroke="#d2606a" stroke-width="40" stroke-linecap="round"/>
<path d="M498 392 C540 360 600 380 615 428" fill="none" stroke="#d2606a" stroke-width="40" stroke-linecap="round"/>
<path d="M612 250 C636 236 652 258 644 296" fill="none" stroke="#d2606a" stroke-width="34" stroke-linecap="round"/>
<path d="M620 325 C646 322 656 352 646 384" fill="none" stroke="#d2606a" stroke-width="34" stroke-linecap="round"/>
<path d="M545 525 C565 502 592 522 584 565" fill="none" stroke="#d2606a" stroke-width="34" stroke-linecap="round"/>
<path d="M345 655 C378 690 425 660 442 600" fill="none" stroke="#d2606a" stroke-width="46" stroke-linecap="round"/>
<path d="M440 432 C480 420 540 440 585 472" fill="none" stroke="#d2606a" stroke-width="34" stroke-linecap="round"/>
<path d="M575 445 C610 430 640 440 650 470" fill="none" stroke="#d2606a" stroke-width="30" stroke-linecap="round"/>
<path d="M250 252 C330 250 420 272 520 262" fill="none" stroke="#e48087" stroke-width="8" stroke-linecap="round" transform="translate(-2 -5)" opacity="0.8"/>
<path d="M205 318 C270 285 380 300 450 315" fill="none" stroke="#e48087" stroke-width="15" stroke-linecap="round" transform="translate(-2 -5)" opacity="0.8"/>
<path d="M218 412 C275 358 380 375 440 392" fill="none" stroke="#e48087" stroke-width="16" stroke-linecap="round" transform="translate(-2 -5)" opacity="0.8"/>
<path d="M310 470 C340 415 372 440 358 520 C350 580 325 600 340 650" fill="none" stroke="#e48087" stroke-width="19" stroke-linecap="round" transform="translate(-2 -5)" opacity="0.8"/>
<path d="M405 478 C450 440 505 480 525 548" fill="none" stroke="#e48087" stroke-width="15" stroke-linecap="round" transform="translate(-2 -5)" opacity="0.8"/>
<path d="M480 318 C520 280 580 290 595 332" fill="none" stroke="#e48087" stroke-width="13" stroke-linecap="round" transform="translate(-2 -5)" opacity="0.8"/>
<path d="M498 392 C540 360 600 380 615 428" fill="none" stroke="#e48087" stroke-width="13" stroke-linecap="round" transform="translate(-2 -5)" opacity="0.8"/>
<path d="M612 250 C636 236 652 258 644 296" fill="none" stroke="#e48087" stroke-width="11" stroke-linecap="round" transform="translate(-2 -5)" opacity="0.8"/>
<path d="M620 325 C646 322 656 352 646 384" fill="none" stroke="#e48087" stroke-width="11" stroke-linecap="round" transform="translate(-2 -5)" opacity="0.8"/>
<path d="M545 525 C565 502 592 522 584 565" fill="none" stroke="#e48087" stroke-width="11" stroke-linecap="round" transform="translate(-2 -5)" opacity="0.8"/>
<path d="M345 655 C378 690 425 660 442 600" fill="none" stroke="#e48087" stroke-width="15" stroke-linecap="round" transform="translate(-2 -5)" opacity="0.8"/>
<path d="M440 432 C480 420 540 440 585 472" fill="none" stroke="#e48087" stroke-width="11" stroke-linecap="round" transform="translate(-2 -5)" opacity="0.8"/>
<path d="M575 445 C610 430 640 440 650 470" fill="none" stroke="#e48087" stroke-width="10" stroke-linecap="round" transform="translate(-2 -5)" opacity="0.8"/>
</g>
<!-- 53_liver.svg -->
<g id="liver" transform="translate(595 440) scale(0.17576)">
<!-- vessels behind -->
<path d="M368 62 L412 58 L440 745 L395 750Z" fill="#1f8fd8"/>
<path d="M368 62 L384 60 L410 748 L395 750Z" fill="#3fabec"/>
<path d="M402 59 L412 58 L440 745 L428 746Z" fill="#1676ba"/>
<ellipse cx="390" cy="60" rx="22" ry="7" fill="#1676ba"/>
<path d="M445 92 L486 90 L476 735 L440 735Z" fill="#e0213f"/>
<path d="M470 90 L486 90 L476 735 L462 735Z" fill="#b3122d"/>
<path d="M450 120 L458 120 L452 700 L446 700Z" fill="#f0516a" opacity="0.8"/>
<ellipse cx="466" cy="91" rx="20" ry="7" fill="#b3122d"/>
<!-- green bile duct and gallbladder -->
<path d="M332 545 C340 565 346 575 350 595 C356 575 364 560 378 542 M350 590 L348 712" fill="none" stroke="#b2e268" stroke-width="13" stroke-linecap="round"/>
<!-- purple -->
<path d="M395 530 C420 580 460 640 492 712 M445 600 C480 630 510 640 546 648" fill="none" stroke="#8e55b8" stroke-width="22" stroke-linecap="butt"/>
<path d="M395 528 C420 578 460 638 492 710 M445 598 C480 628 510 638 546 646" fill="none" stroke="#ad77d2" stroke-width="13" stroke-linecap="butt"/>
<!-- left lobe (viewer right) -->
<path d="M400 210 C440 198 500 205 560 220 C640 238 720 268 768 298 C780 315 778 335 745 368 C690 400 600 438 520 468 C480 485 450 498 430 502 C405 498 385 485 375 470 C400 455 430 420 440 400 C455 360 455 300 430 250 C420 232 410 220 400 210Z" fill="#8c2129"/>
<path d="M400 210 C440 198 500 205 560 220 C640 238 720 268 768 298 C776 312 770 325 745 340 C690 372 600 410 520 440 C480 455 450 468 425 478 C405 480 385 478 375 470 C400 455 430 420 440 400 C455 360 455 300 430 250 C420 232 410 220 400 210Z" fill="#ab3138"/>
<path d="M505 228 C580 232 680 262 745 295 C770 312 755 325 720 342 C660 368 580 392 520 390 C490 360 485 290 505 228Z" fill="#c4474d"/>
<path d="M560 222 C620 235 680 255 730 280" fill="none" stroke="#e88d8a" stroke-width="4" stroke-linecap="round" opacity="0.8"/>
<!-- right lobe (viewer left) -->
<path d="M40 400 C42 330 80 268 170 226 C250 200 340 196 400 210 C420 228 445 270 455 320 C458 360 450 410 410 450 C400 460 388 466 375 470 C340 495 290 520 260 540 C215 580 170 625 140 642 C110 660 85 670 68 672 C52 620 40 500 40 400Z" fill="#8c2129"/>
<path d="M40 400 C42 330 80 268 170 226 C250 200 340 196 400 210 C420 228 445 270 455 320 C458 360 450 410 410 450 C400 458 388 462 372 462 C330 480 290 500 255 520 C210 555 170 600 135 625 C110 645 85 655 66 655 C50 610 40 500 40 400Z" fill="#a52e35"/>
<path d="M40 400 C42 330 80 268 170 226 C250 200 340 196 400 210 C420 228 445 270 455 320 C458 360 450 410 410 450 C380 440 340 448 300 462 C250 480 200 520 160 545 C120 570 90 585 60 580 C45 520 40 460 40 400Z" fill="#c4474d"/>
<path d="M360 200 C380 202 392 206 400 210 C420 228 445 270 455 320 C458 360 450 410 410 450 C395 448 380 446 365 448 C395 400 400 340 385 290 C378 255 368 225 360 200Z" fill="#b0363c"/>
<path d="M400 210 C420 228 445 270 455 320 C458 360 450 410 410 450 C400 458 388 466 375 470" fill="none" stroke="#851c25" stroke-width="5"/>
<path d="M62 330 C50 390 52 460 58 520" fill="none" stroke="#e47f7d" stroke-width="4" stroke-linecap="round" opacity="0.8"/>
<path d="M185 585 C205 545 245 520 285 508" fill="none" stroke="#8fc648" stroke-width="26" stroke-linecap="round"/>
<path d="M186 582 C205 543 165 518 285 506" fill="none" stroke="#acdc62" stroke-width="16" stroke-linecap="round"/>
</g>
<!-- 54_heart.svg -->
<g id="heart" transform="translate(595 610) scale(0.17576)" stroke-linecap="round" stroke-linejoin="round">
<!-- vena cava -->
<path d="M240 100 L300 92 L292 300 L282 672 L205 672 L215 300Z" fill="#1f8fd8"/>
<path d="M240 100 L258 98 L240 300 L228 672 L205 672 L215 300Z" fill="#42acec"/>
<path d="M284 94 L300 92 L292 300 L282 672 L266 672Z" fill="#1676ba"/>
<path d="M250 160 L218 150 M245 205 L210 200 M245 245 L215 248" fill="none" stroke="#1f8fd8" stroke-width="26"/>
<ellipse cx="270" cy="96" rx="30" ry="9" fill="#1676ba"/>
<!-- bottom aorta stub -->
<path d="M365 680 L442 690 L438 742 L368 738Z" fill="#d5213a"/>
<path d="M415 690 L442 690 L438 742 L412 742Z" fill="#a91229"/>
<!-- side red stubs -->
<path d="M150 368 L215 362 M158 432 L215 428 M585 275 L625 268 M595 338 L650 332" fill="none" stroke="#cf1f38" stroke-width="34" stroke-linecap="butt"/>
<path d="M150 378 L215 372 M158 442 L215 438 M585 285 L625 278 M595 348 L650 342" fill="none" stroke="#a11127" stroke-width="12" stroke-linecap="butt"/>
<ellipse cx="152" cy="368" rx="7" ry="17" fill="#8e0f22"/><ellipse cx="160" cy="432" rx="7" ry="17" fill="#8e0f22"/><ellipse cx="626" cy="268" rx="7" ry="17" fill="#8e0f22"/><ellipse cx="651" cy="332" rx="7" ry="17" fill="#8e0f22"/>
<!-- aorta -->
<path d="M380 130 L378 62 M420 125 L420 60 M462 135 L465 66" fill="none" stroke="#e0213f" stroke-width="32" stroke-linecap="butt"/>
<path d="M390 130 L388 62 M430 125 L430 60 M472 135 L475 66" fill="none" stroke="#b3122d" stroke-width="10" stroke-linecap="butt"/>
<path d="M310 270 C295 200 330 140 400 118 C450 108 490 130 495 175 C470 190 430 200 400 215 C370 235 355 260 350 290Z" fill="#e0213f"/>
<path d="M310 270 C300 215 320 165 360 140 C340 180 335 230 345 285Z" fill="#b3122d"/>
<path d="M380 150 C410 135 450 140 470 160" fill="none" stroke="#f0566c" stroke-width="10" opacity="0.8"/>
<!-- pulmonary artery (blue) -->
<path d="M350 290 C360 240 390 210 440 195 C480 185 520 178 552 175 L555 215 C520 220 480 232 455 250 C430 270 420 290 420 310Z" fill="#2a9be2"/>
<path d="M552 175 L555 215 C520 220 480 232 455 250 C475 225 515 200 552 195Z" fill="#1676ba"/>
<path d="M425 150 L445 195 L460 190 L440 148Z" fill="#f1d9c4"/>
<!-- heart body -->
<path d="M230 300 C260 278 330 272 365 292 C390 285 410 288 430 292 C455 240 540 225 585 285 C605 330 600 360 615 400 C650 460 670 540 658 620 C650 680 600 720 540 722 C480 722 420 705 370 675 C300 640 230 580 200 520 C180 460 195 360 230 300Z" fill="#f3a39a"/>
<path d="M230 300 C215 340 198 400 196 460 C198 520 230 580 300 640 C250 560 240 480 250 420 C240 380 235 340 230 300Z" fill="#ec8f86" opacity="0.7"/>
<path d="M300 470 C380 400 520 420 580 500 C620 570 600 650 520 680 C440 690 350 640 310 580 C290 540 285 500 300 470Z" fill="#f7beb3" opacity="0.75"/>
<path d="M320 560 C400 620 520 620 600 560 M340 600 C420 650 520 650 590 600" fill="none" stroke="#fbd8cf" stroke-width="4" opacity="0.8"/>
<!-- fat -->
<path d="M192 530 C205 490 250 462 295 436 C340 412 372 392 384 350 C388 320 380 300 385 286 C405 288 425 298 440 318 C465 345 505 362 548 380 C585 396 610 420 618 452 C595 455 570 448 540 440 C500 430 465 410 440 385 C428 372 418 362 410 358 C405 410 375 452 325 482 C285 505 245 525 218 560 C205 555 195 545 192 530Z" fill="#f6d56e"/>
<path d="M210 525 C235 495 270 475 305 455 M450 335 C490 370 540 390 590 420" fill="none" stroke="#fae79f" stroke-width="8" opacity="0.8"/>
<path d="M460 700 C480 660 540 630 600 622 C640 620 660 640 655 665 C640 700 590 722 540 724 C500 724 470 715 460 700Z" fill="#f6d56e"/>
<path d="M470 700 C495 668 545 645 595 640" fill="none" stroke="#fae79f" stroke-width="8" opacity="0.8"/>
<!-- atria -->
<path d="M215 395 C205 340 240 290 300 280 C345 278 368 305 360 340 C345 375 300 395 265 420 C245 432 225 425 215 395Z" fill="#e9b7af"/>
<path d="M215 395 C205 340 240 290 300 280 C260 310 240 360 250 425 C235 425 222 415 215 395Z" fill="#dba097" opacity="0.8"/>
<path d="M432 292 C450 245 530 225 580 280 C605 320 600 355 590 372 C560 350 510 340 470 330 C450 320 438 308 432 292Z" fill="#ecbcb3"/>
<path d="M580 280 C605 320 600 355 590 372 C575 360 560 352 545 348 C570 330 580 305 580 280Z" fill="#dba097" opacity="0.8"/>
<!-- coronary vessels -->
<g fill="none" stroke="#b5202f" stroke-width="6.5">
<path d="M385 300 C380 350 360 390 330 430 C300 470 270 500 250 560 M330 430 C350 450 380 450 410 430 M300 470 C320 500 330 520 330 545 M270 520 C290 550 300 570 305 590 M365 385 C385 400 400 410 420 412"/>
<path d="M440 320 C480 370 520 400 560 420 C590 440 600 480 605 520 M560 420 C560 460 565 490 575 520 M500 380 C490 420 470 450 455 480"/>
<path d="M500 690 C510 650 530 620 560 600 C580 590 600 585 620 585 M530 620 C535 650 535 670 530 690 M560 600 C575 620 585 640 590 660"/>
</g>
<g fill="none" stroke="#1f86c6" stroke-width="7.5">
<path d="M375 300 C370 350 350 385 320 420 C285 455 250 480 215 520 M320 420 C335 450 345 470 345 500 M345 455 C365 470 385 480 400 495 M285 455 C290 490 300 510 315 530 M240 490 C245 530 255 560 270 590 M215 520 C212 535 212 545 215 555"/>
<path d="M445 312 C470 345 490 370 505 400 C520 440 520 480 515 520 C510 560 520 590 545 610 M505 400 C485 430 465 455 455 490 M515 460 C540 480 560 500 575 530 M545 610 C520 620 500 640 490 670 M545 610 C580 600 610 590 640 595 M500 380 C530 385 560 395 590 410 C605 430 612 450 615 470"/>
</g>
</g>
<!-- 55_leg.svg -->
<g id="leg" transform="translate(595 778) scale(0.17576)">
<clipPath id="legclip"><circle cx="407.4" cy="405.7" r="345.6"/></clipPath>
<g clip-path="url(#legclip)">
<path d="M275 50 C285 120 310 200 328 260 C340 320 348 380 345 430 C340 500 322 560 318 640 C318 690 322 730 326 760 L530 760 C532 700 528 650 522 610 C515 560 518 500 524 450 C532 380 538 300 538 200 C540 150 540 100 542 50Z" fill="#f1b28c"/>
<path d="M275 50 C285 120 310 200 328 260 C338 300 344 340 346 380 C350 330 352 290 345 250 C335 190 322 120 320 50Z" fill="#e0916a"/>
<path d="M542 50 C540 150 540 200 538 300 C536 380 530 430 524 460 C520 430 524 380 526 300 C528 200 528 120 528 50Z" fill="#e0916a"/>
<path d="M522 600 C528 650 532 700 530 760 L520 760 C522 700 520 650 514 610Z" fill="#e0916a"/>
<path d="M330 540 C320 580 314 640 318 700 L326 760 L340 760 C332 700 330 620 338 560Z" fill="#9fb0bd" opacity="0.8"/>
<!-- muscle -->
<path d="M378 55 L412 55 C425 90 450 150 475 215 C500 290 515 360 516 430 C516 490 508 540 497 588 C488 560 478 520 470 480 C468 540 455 600 432 680 C422 715 412 740 405 760 L368 760 C378 720 382 680 380 640 C378 580 365 520 360 450 C355 370 365 280 375 200 C380 150 380 100 378 55Z" fill="#d23529"/>
<path d="M412 55 C425 90 450 150 475 215 C500 290 515 360 516 430 C516 490 508 540 497 588 C488 560 478 520 470 480 C462 420 440 370 420 320 C400 260 395 180 392 55Z" fill="#be2820"/>
<path d="M392 55 C395 180 400 260 420 320 C440 370 462 420 470 480" fill="none" stroke="#9c1a17" stroke-width="5"/>
<path d="M400 60 C420 140 460 240 485 330 C498 390 502 450 498 520" fill="none" stroke="#d43a2e" stroke-width="7" opacity="0.8"/>
<path d="M425 110 C450 180 480 260 496 330" fill="none" stroke="#a51d19" stroke-width="5" opacity="0.8"/>
<path d="M385 200 C375 300 370 400 382 500 C390 580 395 640 388 740" fill="none" stroke="#b8241f" stroke-width="6" opacity="0.8"/>
<path d="M405 340 C415 420 430 500 425 600 C420 660 410 710 400 750" fill="none" stroke="#b8241f" stroke-width="6" opacity="0.7"/>
<path d="M372 300 C362 400 368 480 378 560" fill="none" stroke="#e85a45" stroke-width="6" opacity="0.7"/>
<path d="M440 520 C446 580 440 640 420 710" fill="none" stroke="#e85a45" stroke-width="6" opacity="0.6"/>
</g>
</g>
<!-- 90_labels.svg -->
<filter id="noop" x="-5%" y="-5%" width="110%" height="110%"><feOffset dx="0" dy="0"/></filter>
<g id="labels" class="lb" text-anchor="middle" filter="url(#noop)" stroke="#000" stroke-width="0.35">
<text x="145.4" y="417.2" font-size="25.2" stroke-width="0.6" textLength="106.5" lengthAdjust="spacingAndGlyphs">Stem cell</text>
<text x="419" y="284.3" textLength="74.5" lengthAdjust="spacingAndGlyphs">Nerve cells</text>
<text x="418.5" y="426" textLength="97.5" lengthAdjust="spacingAndGlyphs">Intestinal cells</text>
<text x="418.2" y="570" textLength="67.1" lengthAdjust="spacingAndGlyphs">Liver cells</text>
<text x="418.7" y="716.2" textLength="102.2" lengthAdjust="spacingAndGlyphs">Cardiac muscle</text>
<text x="418.6" y="860.2" textLength="105.2" lengthAdjust="spacingAndGlyphs">Skeletal muscle</text>
<text x="666.3" y="250.7" textLength="71.0" lengthAdjust="spacingAndGlyphs">Nerve cells</text>
<text x="666.3" y="425.5" textLength="71.0" lengthAdjust="spacingAndGlyphs">Nerve cells</text>
<text x="666.3" y="586.7" textLength="71.0" lengthAdjust="spacingAndGlyphs">Nerve cells</text>
<text x="666.3" y="754.6" textLength="71.0" lengthAdjust="spacingAndGlyphs">Nerve cells</text>
<text x="666.3" y="924.6" textLength="71.0" lengthAdjust="spacingAndGlyphs">Nerve cells</text>
</g>
</svg>
</body></html>
